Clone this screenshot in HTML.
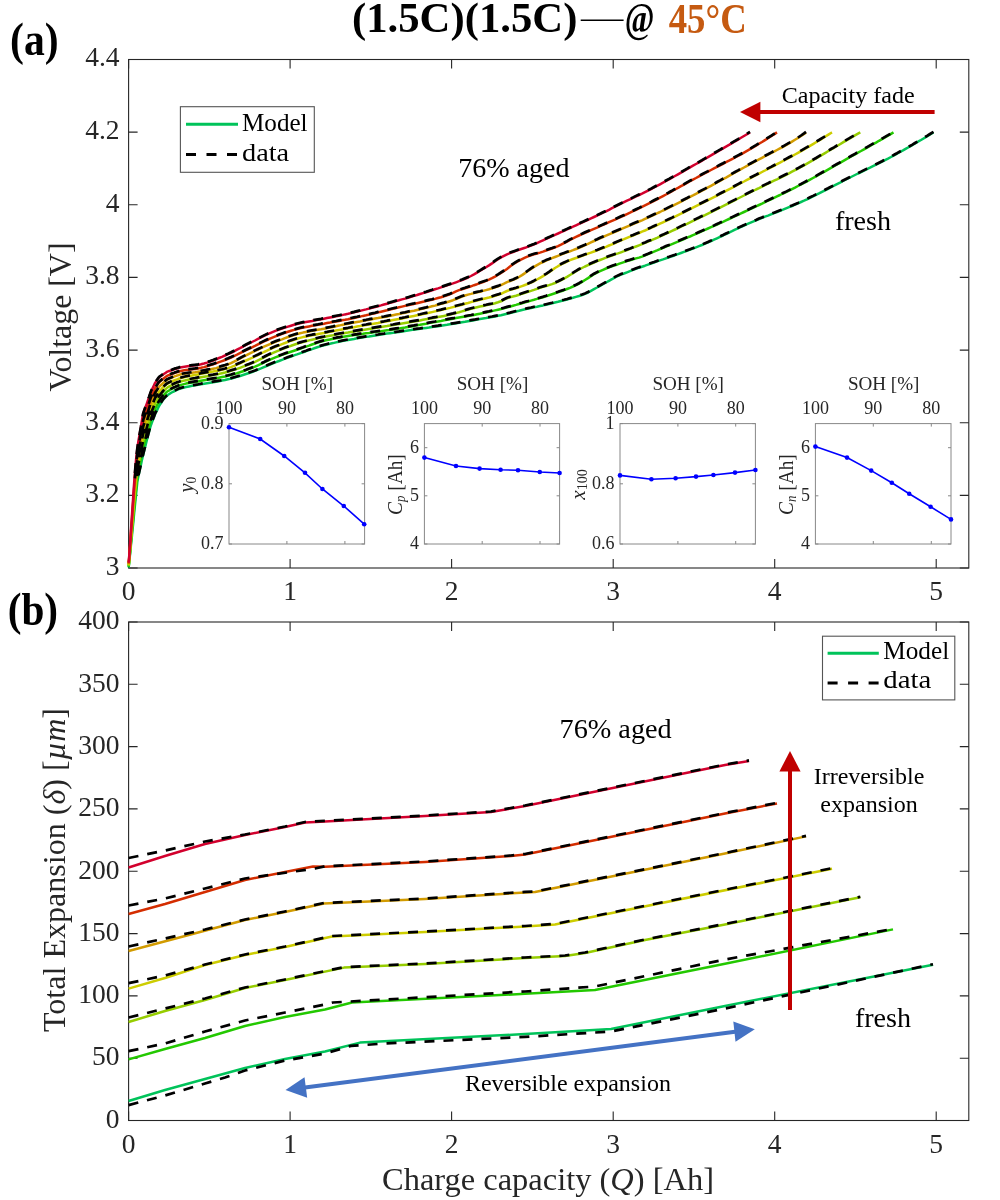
<!DOCTYPE html>
<html><head><meta charset="utf-8"><title>chart</title>
<style>html,body{margin:0;padding:0;background:#fff;width:1000px;height:1200px;overflow:hidden;font-family:"Liberation Serif",serif;}svg{display:block;}</style>
</head><body>
<svg width="1000" height="1200" viewBox="0 0 1000 1200" style="will-change:transform">
<rect width="1000" height="1200" fill="#fff"/>
<rect x="128.6" y="59.5" width="840.2" height="508.5" fill="none" stroke="#262626" stroke-width="1.1"/>
<path d="M128.6,568.0h9.0M968.8,568.0h-9.0M128.6,495.4h9.0M968.8,495.4h-9.0M128.6,422.7h9.0M968.8,422.7h-9.0M128.6,350.1h9.0M968.8,350.1h-9.0M128.6,277.4h9.0M968.8,277.4h-9.0M128.6,204.8h9.0M968.8,204.8h-9.0M128.6,132.1h9.0M968.8,132.1h-9.0M128.6,59.5h9.0M968.8,59.5h-9.0M128.6,568.0v-9.0M128.6,59.5v9.0M290.1,568.0v-9.0M290.1,59.5v9.0M451.6,568.0v-9.0M451.6,59.5v9.0M613.2,568.0v-9.0M613.2,59.5v9.0M774.7,568.0v-9.0M774.7,59.5v9.0M936.2,568.0v-9.0M936.2,59.5v9.0" stroke="#262626" stroke-width="1.1" fill="none"/>
<rect x="128.6" y="622.0" width="840.2" height="498.5" fill="none" stroke="#262626" stroke-width="1.1"/>
<path d="M128.6,1120.5h9.0M968.8,1120.5h-9.0M128.6,1058.2h9.0M968.8,1058.2h-9.0M128.6,995.9h9.0M968.8,995.9h-9.0M128.6,933.6h9.0M968.8,933.6h-9.0M128.6,871.2h9.0M968.8,871.2h-9.0M128.6,808.9h9.0M968.8,808.9h-9.0M128.6,746.6h9.0M968.8,746.6h-9.0M128.6,684.3h9.0M968.8,684.3h-9.0M128.6,622.0h9.0M968.8,622.0h-9.0M128.6,1120.5v-9.0M128.6,622.0v9.0M290.1,1120.5v-9.0M290.1,622.0v9.0M451.6,1120.5v-9.0M451.6,622.0v9.0M613.2,1120.5v-9.0M613.2,622.0v9.0M774.7,1120.5v-9.0M774.7,622.0v9.0M936.2,1120.5v-9.0M936.2,622.0v9.0" stroke="#262626" stroke-width="1.1" fill="none"/>
<g fill="none" stroke-linejoin="round" stroke-linecap="butt">
<path d="M128.6,567.5 L129.1,563.9 L129.5,559.3 L130.0,554.6 L130.5,550.0 L130.9,545.4 L131.4,540.8 L131.9,536.2 L132.3,531.5 L132.8,526.9 L133.3,522.3 L133.7,517.6 L134.9,505.7 L136.1,493.9 L137.3,482.0 L138.5,475.6 L139.7,470.2 L140.9,464.9 L142.0,459.6 L143.2,454.6 L144.4,449.8 L145.6,445.1 L146.8,440.3 L148.0,435.6 L149.2,431.1 L150.3,427.2 L151.5,423.6 L152.7,420.4 L153.9,417.2 L155.1,414.0 L156.3,411.6 L157.5,409.3 L158.6,406.9 L159.8,404.9 L161.0,403.0 L162.2,401.1 L163.4,399.4 L164.6,398.1 L165.8,396.9 L167.0,395.7 L168.1,394.8 L169.3,394.0 L170.5,393.2 L171.7,392.5 L172.9,391.9 L174.1,391.3 L175.3,390.7 L176.4,390.2 L177.6,389.6 L178.8,389.1 L180.0,388.6 L183.0,387.7 L186.0,387.0 L189.0,386.4 L192.0,385.8 L195.0,385.3 L198.0,384.8 L201.0,384.2 L204.0,383.7 L207.0,383.2 L210.0,382.7 L213.0,382.2 L216.0,381.7 L219.0,381.2 L222.0,380.6 L225.0,380.0 L228.0,379.3 L231.0,378.6 L234.0,377.7 L237.0,376.9 L240.0,376.0 L243.0,375.0 L246.0,374.0 L249.0,373.0 L252.0,372.0 L255.0,370.9 L258.0,369.6 L261.0,368.4 L264.0,367.1 L267.0,365.8 L270.0,364.5 L273.0,363.3 L276.0,362.1 L279.0,361.0 L282.0,359.8 L285.0,358.7 L288.0,357.6 L291.0,356.5 L294.0,355.4 L297.0,354.4 L300.0,353.3 L303.0,352.2 L306.0,351.2 L309.0,350.1 L312.0,349.1 L315.0,348.0 L318.0,347.0 L321.0,346.1 L324.0,345.3 L327.0,344.5 L330.0,343.7 L333.0,343.1 L336.0,342.4 L339.0,341.7 L342.0,341.1 L345.0,340.5 L348.0,340.0 L351.0,339.4 L354.0,338.9 L357.0,338.3 L360.0,337.8 L363.0,337.3 L366.0,336.8 L369.0,336.4 L372.0,335.9 L375.0,335.4 L378.0,335.0 L381.0,334.5 L384.0,334.1 L387.0,333.6 L390.0,333.2 L393.0,332.8 L396.0,332.3 L399.0,331.9 L402.0,331.4 L405.0,330.9 L408.0,330.5 L411.0,330.1 L414.0,329.6 L417.0,329.2 L420.0,328.8 L423.0,328.3 L426.0,327.9 L429.0,327.5 L432.0,327.0 L435.0,326.6 L438.0,326.2 L441.0,325.7 L444.0,325.2 L447.0,324.8 L450.0,324.3 L453.0,323.8 L456.0,323.3 L459.0,322.8 L462.0,322.3 L465.0,321.8 L468.0,321.2 L471.0,320.7 L474.0,320.2 L477.0,319.6 L480.0,319.1 L483.0,318.6 L486.0,318.1 L489.0,317.5 L492.0,317.0 L495.0,316.4 L498.0,315.8 L501.0,315.2 L504.0,314.5 L507.0,313.8 L510.0,313.1 L513.0,312.3 L516.0,311.5 L519.0,310.8 L522.0,310.0 L525.0,309.3 L528.0,308.6 L531.0,308.0 L534.0,307.3 L537.0,306.7 L540.0,306.0 L543.0,305.4 L546.0,304.7 L549.0,304.0 L552.0,303.3 L555.0,302.5 L558.0,301.8 L561.0,301.0 L564.0,300.3 L567.0,299.5 L570.0,298.6 L573.0,297.8 L576.0,296.9 L579.0,296.0 L582.0,295.0 L585.0,293.9 L588.0,292.5 L591.0,290.8 L594.0,289.1 L597.0,287.5 L600.0,285.8 L603.0,284.1 L606.0,282.5 L609.0,280.8 L612.0,279.2 L615.0,277.4 L618.0,275.9 L621.0,274.6 L624.0,273.5 L627.0,272.3 L630.0,271.1 L633.0,269.9 L636.0,268.8 L639.0,267.7 L642.0,266.7 L645.0,265.7 L648.0,264.6 L651.0,263.5 L654.0,262.5 L657.0,261.4 L660.0,260.4 L663.0,259.4 L666.0,258.3 L669.0,257.3 L672.0,256.2 L675.0,255.2 L678.0,254.1 L681.0,253.0 L684.0,251.9 L687.0,250.8 L690.0,249.7 L693.0,248.6 L696.0,247.4 L699.0,246.2 L702.0,245.0 L705.0,243.7 L708.0,242.4 L711.0,241.1 L714.0,239.7 L717.0,238.3 L720.0,236.9 L723.0,235.5 L726.0,234.0 L729.0,232.6 L732.0,231.2 L735.0,229.7 L738.0,228.3 L741.0,226.9 L744.0,225.6 L747.0,224.2 L750.0,222.9 L753.0,221.6 L756.0,220.4 L759.0,219.1 L762.0,217.9 L765.0,216.7 L768.0,215.6 L771.0,214.4 L774.0,213.2 L777.0,212.0 L780.0,210.8 L783.0,209.7 L786.0,208.4 L789.0,207.2 L792.0,206.0 L795.0,204.7 L798.0,203.4 L801.0,202.0 L804.0,200.7 L807.0,199.3 L810.0,197.8 L813.0,196.4 L816.0,194.9 L819.0,193.4 L822.0,191.8 L825.0,190.3 L828.0,188.8 L831.0,187.2 L834.0,185.7 L837.0,184.1 L840.0,182.6 L843.0,181.0 L846.0,179.5 L849.0,178.0 L852.0,176.5 L855.0,175.0 L858.0,173.5 L861.0,172.1 L864.0,170.6 L867.0,169.1 L870.0,167.7 L873.0,166.2 L876.0,164.7 L879.0,163.2 L882.0,161.7 L885.0,160.1 L888.0,158.6 L891.0,157.0 L894.0,155.3 L897.0,153.7 L900.0,152.0 L903.0,150.4 L906.0,148.7 L909.0,147.0 L912.0,145.3 L915.0,143.5 L918.0,141.7 L921.0,140.0 L924.0,138.2 L927.0,136.4 L930.0,134.5 L933.0,132.7 L933.5,132.4" stroke="#00C35A" stroke-width="2.5"/>
<path d="M128.6,566.7 L129.1,562.8 L129.5,557.9 L130.0,553.0 L130.5,548.0 L130.9,543.0 L131.4,538.0 L131.9,533.0 L132.3,527.9 L132.8,522.9 L133.3,517.9 L133.7,512.8 L134.9,500.4 L136.1,488.1 L137.3,476.5 L138.5,469.7 L139.7,464.2 L140.9,458.6 L142.0,453.0 L143.2,447.8 L144.4,443.2 L145.6,438.7 L146.8,434.2 L148.0,429.7 L149.2,425.5 L150.3,421.6 L151.5,418.1 L152.7,415.0 L153.9,411.9 L155.1,408.9 L156.3,406.6 L157.5,404.4 L158.6,402.1 L159.8,400.2 L161.0,398.5 L162.2,396.8 L163.4,395.3 L164.6,394.1 L165.8,392.9 L167.0,391.7 L168.1,391.0 L169.3,390.3 L170.5,389.5 L171.7,388.9 L172.9,388.3 L174.1,387.7 L175.3,387.2 L176.4,386.7 L177.6,386.2 L178.8,385.7 L180.0,385.2 L183.0,384.4 L186.0,383.6 L189.0,383.0 L192.0,382.4 L195.0,381.9 L198.0,381.4 L201.0,380.8 L204.0,380.3 L207.0,379.8 L210.0,379.3 L213.0,378.8 L216.0,378.3 L219.0,377.7 L222.0,377.1 L225.0,376.5 L228.0,375.8 L231.0,375.0 L234.0,374.1 L237.0,373.2 L240.0,372.2 L243.0,371.2 L246.0,370.2 L249.0,369.1 L252.0,367.9 L255.0,366.7 L258.0,365.3 L261.0,363.9 L264.0,362.5 L267.0,361.0 L270.0,359.6 L273.0,358.3 L276.0,357.1 L279.0,356.0 L282.0,354.9 L285.0,353.8 L288.0,352.8 L291.0,351.8 L294.0,350.8 L297.0,349.8 L300.0,348.8 L303.0,347.7 L306.0,346.6 L309.0,345.6 L312.0,344.5 L315.0,343.5 L318.0,342.5 L321.0,341.6 L324.0,340.7 L327.0,340.0 L330.0,339.4 L333.0,338.8 L336.0,338.2 L339.0,337.7 L342.0,337.1 L345.0,336.6 L348.0,336.1 L351.0,335.6 L354.0,335.1 L357.0,334.7 L360.0,334.2 L363.0,333.8 L366.0,333.3 L369.0,332.9 L372.0,332.4 L375.0,332.0 L378.0,331.6 L381.0,331.2 L384.0,330.7 L387.0,330.3 L390.0,329.9 L393.0,329.4 L396.0,328.9 L399.0,328.5 L402.0,328.0 L405.0,327.5 L408.0,326.9 L411.0,326.4 L414.0,325.9 L417.0,325.3 L420.0,324.8 L423.0,324.2 L426.0,323.7 L429.0,323.1 L432.0,322.5 L435.0,322.0 L438.0,321.4 L441.0,320.9 L444.0,320.3 L447.0,319.7 L450.0,319.2 L453.0,318.7 L456.0,318.1 L459.0,317.6 L462.0,317.1 L465.0,316.6 L468.0,316.0 L471.0,315.5 L474.0,314.9 L477.0,314.3 L480.0,313.7 L483.0,313.1 L486.0,312.4 L489.0,311.8 L492.0,311.1 L495.0,310.4 L498.0,309.7 L501.0,309.0 L504.0,308.2 L507.0,307.4 L510.0,306.6 L513.0,305.7 L516.0,304.9 L519.0,304.0 L522.0,303.2 L525.0,302.3 L528.0,301.5 L531.0,300.6 L534.0,299.8 L537.0,298.9 L540.0,298.1 L543.0,297.2 L546.0,296.3 L549.0,295.3 L552.0,294.3 L555.0,293.3 L558.0,292.3 L561.0,291.2 L564.0,290.2 L567.0,289.0 L570.0,287.8 L573.0,286.5 L576.0,285.2 L579.0,283.7 L582.0,281.9 L585.0,280.0 L588.0,278.1 L591.0,276.1 L594.0,274.2 L597.0,272.6 L600.0,271.1 L603.0,269.8 L606.0,268.5 L609.0,267.4 L612.0,266.3 L615.0,265.2 L618.0,264.2 L621.0,263.1 L624.0,262.1 L627.0,261.1 L630.0,260.2 L633.0,259.3 L636.0,258.4 L639.0,257.6 L642.0,256.6 L645.0,255.4 L648.0,254.2 L651.0,252.9 L654.0,251.6 L657.0,250.4 L660.0,249.1 L663.0,247.9 L666.0,246.6 L669.0,245.4 L672.0,244.1 L675.0,242.8 L678.0,241.6 L681.0,240.3 L684.0,239.0 L687.0,237.7 L690.0,236.5 L693.0,235.2 L696.0,233.9 L699.0,232.5 L702.0,231.2 L705.0,229.9 L708.0,228.5 L711.0,227.2 L714.0,225.9 L717.0,224.5 L720.0,223.1 L723.0,221.8 L726.0,220.4 L729.0,219.0 L732.0,217.6 L735.0,216.2 L738.0,214.8 L741.0,213.4 L744.0,212.0 L747.0,210.6 L750.0,209.2 L753.0,207.8 L756.0,206.4 L759.0,205.0 L762.0,203.6 L765.0,202.1 L768.0,200.7 L771.0,199.3 L774.0,197.9 L777.0,196.4 L780.0,195.0 L783.0,193.5 L786.0,192.1 L789.0,190.6 L792.0,189.1 L795.0,187.6 L798.0,186.0 L801.0,184.5 L804.0,182.9 L807.0,181.3 L810.0,179.7 L813.0,178.0 L816.0,176.4 L819.0,174.7 L822.0,173.0 L825.0,171.3 L828.0,169.6 L831.0,167.9 L834.0,166.2 L837.0,164.5 L840.0,162.8 L843.0,161.1 L846.0,159.4 L849.0,157.7 L852.0,156.0 L855.0,154.3 L858.0,152.6 L861.0,151.0 L864.0,149.3 L867.0,147.6 L870.0,145.9 L873.0,144.2 L876.0,142.6 L879.0,140.8 L882.0,139.1 L885.0,137.4 L888.0,135.7 L891.0,133.9 L893.5,132.4" stroke="#23C800" stroke-width="2.5"/>
<path d="M128.6,565.8 L129.1,561.8 L129.5,556.6 L130.0,551.4 L130.5,546.0 L130.9,540.6 L131.4,535.2 L131.9,529.8 L132.3,524.3 L132.8,518.9 L133.3,513.5 L133.7,508.0 L134.9,495.0 L136.1,482.3 L137.3,471.0 L138.5,463.9 L139.7,458.1 L140.9,452.3 L142.0,446.4 L143.2,440.9 L144.4,436.7 L145.6,432.4 L146.8,428.1 L148.0,423.8 L149.2,419.8 L150.3,416.0 L151.5,412.6 L152.7,409.6 L153.9,406.6 L155.1,403.7 L156.3,401.5 L157.5,399.4 L158.6,397.3 L159.8,395.6 L161.0,394.0 L162.2,392.5 L163.4,391.1 L164.6,390.0 L165.8,388.9 L167.0,387.8 L168.1,387.1 L169.3,386.4 L170.5,385.8 L171.7,385.2 L172.9,384.6 L174.1,384.1 L175.3,383.5 L176.4,383.1 L177.6,382.6 L178.8,382.2 L180.0,381.7 L183.0,380.9 L186.0,380.2 L189.0,379.6 L192.0,379.0 L195.0,378.5 L198.0,377.9 L201.0,377.3 L204.0,376.7 L207.0,376.2 L210.0,375.6 L213.0,375.1 L216.0,374.5 L219.0,373.9 L222.0,373.2 L225.0,372.5 L228.0,371.7 L231.0,370.8 L234.0,369.9 L237.0,368.9 L240.0,367.8 L243.0,366.7 L246.0,365.6 L249.0,364.4 L252.0,363.2 L255.0,361.8 L258.0,360.3 L261.0,358.8 L264.0,357.3 L267.0,355.7 L270.0,354.3 L273.0,352.9 L276.0,351.6 L279.0,350.4 L282.0,349.2 L285.0,348.0 L288.0,346.9 L291.0,345.8 L294.0,344.8 L297.0,343.8 L300.0,342.9 L303.0,342.0 L306.0,341.2 L309.0,340.4 L312.0,339.7 L315.0,339.0 L318.0,338.3 L321.0,337.6 L324.0,337.0 L327.0,336.3 L330.0,335.7 L333.0,335.2 L336.0,334.6 L339.0,334.0 L342.0,333.5 L345.0,333.0 L348.0,332.5 L351.0,331.9 L354.0,331.4 L357.0,330.9 L360.0,330.4 L363.0,329.9 L366.0,329.4 L369.0,328.9 L372.0,328.4 L375.0,327.9 L378.0,327.4 L381.0,326.9 L384.0,326.4 L387.0,326.0 L390.0,325.5 L393.0,325.0 L396.0,324.4 L399.0,323.9 L402.0,323.4 L405.0,322.9 L408.0,322.4 L411.0,321.9 L414.0,321.4 L417.0,320.9 L420.0,320.4 L423.0,319.8 L426.0,319.3 L429.0,318.8 L432.0,318.2 L435.0,317.7 L438.0,317.1 L441.0,316.5 L444.0,315.9 L447.0,315.3 L450.0,314.6 L453.0,313.9 L456.0,313.1 L459.0,312.3 L462.0,311.4 L465.0,310.5 L468.0,309.6 L471.0,308.8 L474.0,308.0 L477.0,307.2 L480.0,306.5 L483.0,305.9 L486.0,305.3 L489.0,304.6 L492.0,304.0 L495.0,303.2 L498.0,302.3 L501.0,301.3 L504.0,299.7 L507.0,298.2 L510.0,297.2 L513.0,296.5 L516.0,295.8 L519.0,294.8 L522.0,293.7 L525.0,292.7 L528.0,291.8 L531.0,290.9 L534.0,289.9 L537.0,288.8 L540.0,287.8 L543.0,286.9 L546.0,286.0 L549.0,285.1 L552.0,284.1 L555.0,283.0 L558.0,281.7 L561.0,280.2 L564.0,278.6 L567.0,276.9 L570.0,275.0 L573.0,273.2 L576.0,271.3 L579.0,269.5 L582.0,268.0 L585.0,266.5 L588.0,265.1 L591.0,263.8 L594.0,262.5 L597.0,261.2 L600.0,260.0 L603.0,258.8 L606.0,257.7 L609.0,256.6 L612.0,255.5 L615.0,254.4 L618.0,253.4 L621.0,252.3 L624.0,251.2 L627.0,250.0 L630.0,248.9 L633.0,247.7 L636.0,246.5 L639.0,245.3 L642.0,244.1 L645.0,242.9 L648.0,241.6 L651.0,240.4 L654.0,239.1 L657.0,237.8 L660.0,236.4 L663.0,235.1 L666.0,233.7 L669.0,232.3 L672.0,230.9 L675.0,229.5 L678.0,228.1 L681.0,226.6 L684.0,225.2 L687.0,223.8 L690.0,222.3 L693.0,220.9 L696.0,219.4 L699.0,218.0 L702.0,216.5 L705.0,215.1 L708.0,213.6 L711.0,212.1 L714.0,210.6 L717.0,209.1 L720.0,207.6 L723.0,206.1 L726.0,204.6 L729.0,203.1 L732.0,201.6 L735.0,200.1 L738.0,198.5 L741.0,197.0 L744.0,195.5 L747.0,194.0 L750.0,192.5 L753.0,191.0 L756.0,189.5 L759.0,188.1 L762.0,186.6 L765.0,185.1 L768.0,183.7 L771.0,182.2 L774.0,180.7 L777.0,179.3 L780.0,177.8 L783.0,176.3 L786.0,174.8 L789.0,173.3 L792.0,171.7 L795.0,170.2 L798.0,168.6 L801.0,167.0 L804.0,165.3 L807.0,163.6 L810.0,161.9 L813.0,160.2 L816.0,158.5 L819.0,156.7 L822.0,154.9 L825.0,153.1 L828.0,151.3 L831.0,149.5 L834.0,147.8 L837.0,146.0 L840.0,144.2 L843.0,142.4 L846.0,140.6 L849.0,138.9 L852.0,137.1 L855.0,135.4 L858.0,133.7 L860.3,132.4" stroke="#96CD00" stroke-width="2.5"/>
<path d="M128.6,565.0 L129.1,560.7 L129.5,555.3 L130.0,549.8 L130.5,544.0 L130.9,538.2 L131.4,532.4 L131.9,526.5 L132.3,520.7 L132.8,514.9 L133.3,509.1 L133.7,503.3 L134.9,489.6 L136.1,476.5 L137.3,465.5 L138.5,458.0 L139.7,452.1 L140.9,446.1 L142.0,439.8 L143.2,434.1 L144.4,430.1 L145.6,426.0 L146.8,422.0 L148.0,418.0 L149.2,414.1 L150.3,410.4 L151.5,407.1 L152.7,404.2 L153.9,401.3 L155.1,398.5 L156.3,396.5 L157.5,394.5 L158.6,392.5 L159.8,390.9 L161.0,389.6 L162.2,388.2 L163.4,387.0 L164.6,385.9 L165.8,384.9 L167.0,383.9 L168.1,383.3 L169.3,382.7 L170.5,382.1 L171.7,381.5 L172.9,381.0 L174.1,380.5 L175.3,380.0 L176.4,379.6 L177.6,379.2 L178.8,378.7 L180.0,378.3 L183.0,377.5 L186.0,376.8 L189.0,376.1 L192.0,375.6 L195.0,375.0 L198.0,374.4 L201.0,373.8 L204.0,373.2 L207.0,372.7 L210.0,372.1 L213.0,371.6 L216.0,371.0 L219.0,370.4 L222.0,369.8 L225.0,369.0 L228.0,368.1 L231.0,367.1 L234.0,365.9 L237.0,364.6 L240.0,363.3 L243.0,361.9 L246.0,360.5 L249.0,359.1 L252.0,357.8 L255.0,356.4 L258.0,355.0 L261.0,353.5 L264.0,352.0 L267.0,350.6 L270.0,349.2 L273.0,347.8 L276.0,346.6 L279.0,345.4 L282.0,344.1 L285.0,343.0 L288.0,341.8 L291.0,340.7 L294.0,339.7 L297.0,338.7 L300.0,337.9 L303.0,337.1 L306.0,336.5 L309.0,335.8 L312.0,335.2 L315.0,334.7 L318.0,334.1 L321.0,333.5 L324.0,332.9 L327.0,332.4 L330.0,331.8 L333.0,331.2 L336.0,330.6 L339.0,330.0 L342.0,329.4 L345.0,328.8 L348.0,328.3 L351.0,327.7 L354.0,327.2 L357.0,326.6 L360.0,326.1 L363.0,325.5 L366.0,325.0 L369.0,324.4 L372.0,323.9 L375.0,323.4 L378.0,322.9 L381.0,322.3 L384.0,321.8 L387.0,321.2 L390.0,320.7 L393.0,320.1 L396.0,319.5 L399.0,318.9 L402.0,318.4 L405.0,317.8 L408.0,317.1 L411.0,316.5 L414.0,315.9 L417.0,315.3 L420.0,314.7 L423.0,314.0 L426.0,313.4 L429.0,312.8 L432.0,312.1 L435.0,311.4 L438.0,310.7 L441.0,310.1 L444.0,309.3 L447.0,308.6 L450.0,307.9 L453.0,307.1 L456.0,306.3 L459.0,305.5 L462.0,304.7 L465.0,303.8 L468.0,303.0 L471.0,302.1 L474.0,301.3 L477.0,300.5 L480.0,299.7 L483.0,299.0 L486.0,298.2 L489.0,297.5 L492.0,296.7 L495.0,295.8 L498.0,294.9 L501.0,293.8 L504.0,292.4 L507.0,291.0 L510.0,289.9 L513.0,289.1 L516.0,288.2 L519.0,287.2 L522.0,286.1 L525.0,285.0 L528.0,283.9 L531.0,282.7 L534.0,281.2 L537.0,279.5 L540.0,277.8 L543.0,276.1 L546.0,274.3 L549.0,272.3 L552.0,270.2 L555.0,268.0 L558.0,266.2 L561.0,264.5 L564.0,263.0 L567.0,261.6 L570.0,260.2 L573.0,259.0 L576.0,258.0 L579.0,257.0 L582.0,255.9 L585.0,254.8 L588.0,253.7 L591.0,252.6 L594.0,251.5 L597.0,250.4 L600.0,249.2 L603.0,248.0 L606.0,246.8 L609.0,245.5 L612.0,244.3 L615.0,243.0 L618.0,241.7 L621.0,240.4 L624.0,239.2 L627.0,237.9 L630.0,236.7 L633.0,235.5 L636.0,234.2 L639.0,233.0 L642.0,231.7 L645.0,230.5 L648.0,229.2 L651.0,227.9 L654.0,226.5 L657.0,225.1 L660.0,223.7 L663.0,222.3 L666.0,220.9 L669.0,219.5 L672.0,218.1 L675.0,216.6 L678.0,215.1 L681.0,213.7 L684.0,212.2 L687.0,210.7 L690.0,209.2 L693.0,207.7 L696.0,206.2 L699.0,204.7 L702.0,203.2 L705.0,201.7 L708.0,200.2 L711.0,198.6 L714.0,197.1 L717.0,195.6 L720.0,194.0 L723.0,192.5 L726.0,190.9 L729.0,189.3 L732.0,187.8 L735.0,186.2 L738.0,184.6 L741.0,183.0 L744.0,181.5 L747.0,179.9 L750.0,178.3 L753.0,176.7 L756.0,175.2 L759.0,173.6 L762.0,172.0 L765.0,170.5 L768.0,168.9 L771.0,167.4 L774.0,165.8 L777.0,164.2 L780.0,162.6 L783.0,161.0 L786.0,159.4 L789.0,157.8 L792.0,156.2 L795.0,154.5 L798.0,152.8 L801.0,151.1 L804.0,149.4 L807.0,147.7 L810.0,145.9 L813.0,144.1 L816.0,142.3 L819.0,140.5 L822.0,138.6 L825.0,136.8 L828.0,134.9 L831.0,133.0 L832.0,132.4" stroke="#CDCD00" stroke-width="2.5"/>
<path d="M128.6,564.2 L129.1,559.7 L129.5,553.9 L130.0,548.2 L130.5,542.0 L130.9,535.8 L131.4,529.6 L131.9,523.3 L132.3,517.1 L132.8,510.9 L133.3,504.7 L133.7,498.5 L134.9,484.2 L136.1,470.7 L137.3,460.0 L138.5,452.1 L139.7,446.1 L140.9,439.8 L142.0,433.2 L143.2,427.2 L144.4,423.4 L145.6,419.6 L146.8,415.9 L148.0,412.1 L149.2,408.4 L150.3,404.8 L151.5,401.6 L152.7,398.8 L153.9,396.0 L155.1,393.3 L156.3,391.4 L157.5,389.5 L158.6,387.6 L159.8,386.2 L161.0,385.0 L162.2,383.8 L163.4,382.7 L164.6,381.7 L165.8,380.8 L167.0,379.8 L168.1,379.3 L169.3,378.7 L170.5,378.2 L171.7,377.7 L172.9,377.2 L174.1,376.7 L175.3,376.2 L176.4,375.8 L177.6,375.4 L178.8,375.0 L180.0,374.6 L183.0,374.0 L186.0,373.5 L189.0,373.0 L192.0,372.7 L195.0,372.3 L198.0,371.8 L201.0,371.3 L204.0,370.7 L207.0,370.1 L210.0,369.5 L213.0,368.8 L216.0,368.1 L219.0,367.3 L222.0,366.4 L225.0,365.5 L228.0,364.4 L231.0,363.1 L234.0,361.7 L237.0,360.1 L240.0,358.5 L243.0,356.9 L246.0,355.3 L249.0,353.8 L252.0,352.4 L255.0,350.9 L258.0,349.5 L261.0,348.1 L264.0,346.7 L267.0,345.4 L270.0,344.1 L273.0,342.8 L276.0,341.6 L279.0,340.4 L282.0,339.3 L285.0,338.1 L288.0,337.0 L291.0,336.0 L294.0,335.0 L297.0,334.1 L300.0,333.3 L303.0,332.6 L306.0,332.0 L309.0,331.4 L312.0,330.8 L315.0,330.3 L318.0,329.8 L321.0,329.3 L324.0,328.7 L327.0,328.1 L330.0,327.5 L333.0,326.9 L336.0,326.2 L339.0,325.6 L342.0,324.9 L345.0,324.3 L348.0,323.7 L351.0,323.1 L354.0,322.5 L357.0,321.9 L360.0,321.4 L363.0,320.8 L366.0,320.3 L369.0,319.7 L372.0,319.2 L375.0,318.6 L378.0,318.1 L381.0,317.5 L384.0,317.0 L387.0,316.4 L390.0,315.8 L393.0,315.2 L396.0,314.6 L399.0,314.0 L402.0,313.3 L405.0,312.7 L408.0,312.0 L411.0,311.3 L414.0,310.7 L417.0,310.0 L420.0,309.3 L423.0,308.6 L426.0,307.9 L429.0,307.1 L432.0,306.3 L435.0,305.6 L438.0,304.8 L441.0,303.9 L444.0,303.1 L447.0,302.2 L450.0,301.2 L453.0,300.2 L456.0,299.0 L459.0,297.8 L462.0,296.6 L465.0,295.5 L468.0,294.6 L471.0,293.9 L474.0,293.1 L477.0,292.4 L480.0,291.7 L483.0,290.9 L486.0,290.1 L489.0,289.3 L492.0,288.4 L495.0,287.4 L498.0,286.4 L501.0,285.1 L504.0,283.7 L507.0,282.2 L510.0,281.0 L513.0,279.9 L516.0,278.6 L519.0,277.0 L522.0,275.1 L525.0,273.1 L528.0,271.0 L531.0,268.9 L534.0,266.9 L537.0,265.1 L540.0,263.4 L543.0,262.0 L546.0,260.6 L549.0,259.4 L552.0,258.2 L555.0,257.0 L558.0,255.8 L561.0,254.6 L564.0,253.4 L567.0,252.3 L570.0,251.3 L573.0,250.2 L576.0,249.0 L579.0,247.8 L582.0,246.5 L585.0,245.2 L588.0,243.8 L591.0,242.4 L594.0,241.0 L597.0,239.7 L600.0,238.3 L603.0,237.0 L606.0,235.7 L609.0,234.4 L612.0,233.1 L615.0,231.8 L618.0,230.5 L621.0,229.2 L624.0,227.9 L627.0,226.6 L630.0,225.4 L633.0,224.1 L636.0,222.8 L639.0,221.5 L642.0,220.3 L645.0,218.9 L648.0,217.6 L651.0,216.2 L654.0,214.8 L657.0,213.4 L660.0,212.0 L663.0,210.5 L666.0,209.1 L669.0,207.6 L672.0,206.1 L675.0,204.6 L678.0,203.1 L681.0,201.6 L684.0,200.0 L687.0,198.5 L690.0,196.9 L693.0,195.4 L696.0,193.8 L699.0,192.2 L702.0,190.6 L705.0,189.1 L708.0,187.4 L711.0,185.8 L714.0,184.2 L717.0,182.5 L720.0,180.9 L723.0,179.2 L726.0,177.6 L729.0,175.9 L732.0,174.2 L735.0,172.5 L738.0,170.9 L741.0,169.2 L744.0,167.5 L747.0,165.9 L750.0,164.2 L753.0,162.6 L756.0,161.0 L759.0,159.4 L762.0,157.8 L765.0,156.2 L768.0,154.7 L771.0,153.1 L774.0,151.6 L777.0,150.0 L780.0,148.4 L783.0,146.8 L786.0,145.1 L789.0,143.4 L792.0,141.6 L795.0,139.8 L798.0,138.0 L801.0,136.0 L804.0,133.9 L806.0,132.4" stroke="#D29B00" stroke-width="2.5"/>
<path d="M128.6,563.3 L129.1,558.6 L129.5,552.6 L130.0,546.6 L130.5,540.0 L130.9,533.4 L131.4,526.8 L131.9,520.1 L132.3,513.5 L132.8,506.9 L133.3,500.3 L133.7,493.7 L134.9,478.8 L136.1,464.9 L137.3,454.5 L138.5,446.3 L139.7,440.0 L140.9,433.5 L142.0,426.6 L143.2,420.4 L144.4,416.9 L145.6,413.3 L146.8,409.7 L148.0,406.2 L149.2,402.7 L150.3,399.3 L151.5,396.2 L152.7,393.5 L153.9,390.8 L155.1,388.1 L156.3,386.4 L157.5,384.6 L158.6,382.8 L159.8,381.6 L161.0,380.6 L162.2,379.6 L163.4,378.6 L164.6,377.7 L165.8,376.8 L167.0,375.9 L168.1,375.4 L169.3,375.0 L170.5,374.5 L171.7,374.0 L172.9,373.6 L174.1,373.2 L175.3,372.7 L176.4,372.4 L177.6,372.0 L178.8,371.6 L180.0,371.2 L183.0,370.6 L186.0,370.1 L189.0,369.7 L192.0,369.3 L195.0,368.9 L198.0,368.4 L201.0,367.8 L204.0,367.1 L207.0,366.2 L210.0,365.3 L213.0,364.4 L216.0,363.3 L219.0,362.2 L222.0,361.1 L225.0,360.0 L228.0,358.8 L231.0,357.5 L234.0,356.1 L237.0,354.7 L240.0,353.2 L243.0,351.7 L246.0,350.2 L249.0,348.8 L252.0,347.3 L255.0,345.9 L258.0,344.4 L261.0,342.9 L264.0,341.4 L267.0,340.0 L270.0,338.6 L273.0,337.3 L276.0,336.1 L279.0,335.0 L282.0,333.9 L285.0,332.8 L288.0,331.8 L291.0,330.8 L294.0,329.9 L297.0,329.1 L300.0,328.3 L303.0,327.6 L306.0,327.0 L309.0,326.4 L312.0,325.8 L315.0,325.3 L318.0,324.8 L321.0,324.2 L324.0,323.7 L327.0,323.1 L330.0,322.6 L333.0,322.0 L336.0,321.5 L339.0,320.9 L342.0,320.3 L345.0,319.8 L348.0,319.2 L351.0,318.5 L354.0,317.9 L357.0,317.3 L360.0,316.6 L363.0,315.9 L366.0,315.3 L369.0,314.6 L372.0,313.9 L375.0,313.2 L378.0,312.4 L381.0,311.7 L384.0,311.0 L387.0,310.3 L390.0,309.5 L393.0,308.8 L396.0,308.1 L399.0,307.3 L402.0,306.6 L405.0,305.9 L408.0,305.2 L411.0,304.5 L414.0,303.9 L417.0,303.2 L420.0,302.5 L423.0,301.8 L426.0,301.1 L429.0,300.4 L432.0,299.7 L435.0,298.9 L438.0,298.0 L441.0,297.2 L444.0,296.2 L447.0,295.2 L450.0,294.2 L453.0,292.8 L456.0,291.3 L459.0,290.1 L462.0,289.2 L465.0,288.3 L468.0,287.3 L471.0,286.3 L474.0,285.2 L477.0,284.2 L480.0,283.1 L483.0,282.0 L486.0,280.9 L489.0,279.7 L492.0,278.2 L495.0,276.6 L498.0,274.8 L501.0,272.9 L504.0,271.0 L507.0,268.9 L510.0,266.5 L513.0,264.3 L516.0,262.4 L519.0,260.7 L522.0,259.2 L525.0,257.7 L528.0,256.4 L531.0,255.3 L534.0,254.3 L537.0,253.5 L540.0,252.6 L543.0,251.6 L546.0,250.5 L549.0,249.5 L552.0,248.5 L555.0,247.4 L558.0,246.1 L561.0,244.7 L564.0,243.2 L567.0,241.6 L570.0,239.9 L573.0,238.4 L576.0,236.9 L579.0,235.5 L582.0,234.2 L585.0,232.8 L588.0,231.5 L591.0,230.2 L594.0,228.9 L597.0,227.6 L600.0,226.2 L603.0,224.9 L606.0,223.6 L609.0,222.2 L612.0,220.9 L615.0,219.6 L618.0,218.2 L621.0,216.8 L624.0,215.5 L627.0,214.1 L630.0,212.7 L633.0,211.2 L636.0,209.8 L639.0,208.4 L642.0,206.9 L645.0,205.4 L648.0,203.9 L651.0,202.4 L654.0,200.8 L657.0,199.3 L660.0,197.7 L663.0,196.1 L666.0,194.5 L669.0,192.8 L672.0,191.2 L675.0,189.5 L678.0,187.9 L681.0,186.2 L684.0,184.6 L687.0,182.9 L690.0,181.2 L693.0,179.6 L696.0,178.0 L699.0,176.3 L702.0,174.7 L705.0,173.1 L708.0,171.6 L711.0,170.0 L714.0,168.4 L717.0,166.9 L720.0,165.3 L723.0,163.8 L726.0,162.2 L729.0,160.7 L732.0,159.1 L735.0,157.5 L738.0,155.9 L741.0,154.3 L744.0,152.6 L747.0,150.9 L750.0,149.2 L753.0,147.4 L756.0,145.7 L759.0,143.8 L762.0,142.0 L765.0,140.1 L768.0,138.2 L771.0,136.3 L774.0,134.4 L777.0,132.4" stroke="#D42D00" stroke-width="2.5"/>
<path d="M128.6,562.5 L129.1,557.6 L129.5,551.3 L130.0,545.0 L130.5,538.0 L130.9,531.0 L131.4,523.9 L131.9,516.9 L132.3,509.9 L132.8,502.9 L133.3,495.9 L133.7,488.9 L134.9,473.5 L136.1,459.2 L137.3,449.0 L138.5,440.4 L139.7,434.0 L140.9,427.2 L142.0,420.0 L143.2,413.6 L144.4,410.2 L145.6,406.9 L146.8,403.6 L148.0,400.3 L149.2,397.0 L150.3,393.6 L151.5,390.6 L152.7,388.0 L153.9,385.4 L155.1,382.9 L156.3,381.2 L157.5,379.6 L158.6,377.9 L159.8,376.8 L161.0,376.0 L162.2,375.2 L163.4,374.3 L164.6,373.5 L165.8,372.7 L167.0,371.8 L168.1,371.4 L169.3,371.0 L170.5,370.6 L171.7,370.2 L172.9,369.7 L174.1,369.3 L175.3,368.9 L176.4,368.6 L177.6,368.2 L178.8,367.9 L180.0,367.5 L183.0,366.9 L186.0,366.5 L189.0,366.1 L192.0,365.7 L195.0,365.3 L198.0,364.9 L201.0,364.3 L204.0,363.5 L207.0,362.6 L210.0,361.6 L213.0,360.5 L216.0,359.3 L219.0,358.0 L222.0,356.8 L225.0,355.5 L228.0,354.2 L231.0,352.8 L234.0,351.3 L237.0,349.7 L240.0,348.2 L243.0,346.6 L246.0,345.0 L249.0,343.5 L252.0,342.0 L255.0,340.5 L258.0,338.9 L261.0,337.4 L264.0,335.9 L267.0,334.4 L270.0,333.1 L273.0,331.8 L276.0,330.6 L279.0,329.5 L282.0,328.5 L285.0,327.5 L288.0,326.6 L291.0,325.7 L294.0,324.8 L297.0,324.0 L300.0,323.3 L303.0,322.6 L306.0,322.0 L309.0,321.4 L312.0,320.9 L315.0,320.3 L318.0,319.8 L321.0,319.3 L324.0,318.7 L327.0,318.1 L330.0,317.5 L333.0,316.9 L336.0,316.3 L339.0,315.7 L342.0,315.1 L345.0,314.4 L348.0,313.8 L351.0,313.1 L354.0,312.4 L357.0,311.6 L360.0,310.9 L363.0,310.1 L366.0,309.4 L369.0,308.6 L372.0,307.8 L375.0,307.0 L378.0,306.2 L381.0,305.4 L384.0,304.5 L387.0,303.7 L390.0,302.9 L393.0,302.0 L396.0,301.1 L399.0,300.3 L402.0,299.4 L405.0,298.6 L408.0,297.7 L411.0,296.8 L414.0,295.9 L417.0,295.0 L420.0,294.0 L423.0,293.1 L426.0,292.2 L429.0,291.2 L432.0,290.3 L435.0,289.3 L438.0,288.4 L441.0,287.4 L444.0,286.4 L447.0,285.4 L450.0,284.4 L453.0,283.4 L456.0,282.3 L459.0,281.2 L462.0,280.1 L465.0,278.8 L468.0,277.5 L471.0,276.0 L474.0,274.4 L477.0,272.7 L480.0,270.8 L483.0,269.0 L486.0,267.2 L489.0,265.4 L492.0,263.4 L495.0,261.2 L498.0,259.2 L501.0,257.4 L504.0,255.8 L507.0,254.3 L510.0,253.1 L513.0,252.0 L516.0,250.9 L519.0,249.8 L522.0,248.8 L525.0,247.8 L528.0,246.7 L531.0,245.6 L534.0,244.4 L537.0,243.1 L540.0,241.7 L543.0,240.3 L546.0,238.9 L549.0,237.6 L552.0,236.2 L555.0,234.8 L558.0,233.5 L561.0,232.1 L564.0,230.8 L567.0,229.4 L570.0,228.0 L573.0,226.7 L576.0,225.3 L579.0,223.9 L582.0,222.6 L585.0,221.2 L588.0,219.8 L591.0,218.4 L594.0,217.0 L597.0,215.6 L600.0,214.2 L603.0,212.7 L606.0,211.3 L609.0,209.8 L612.0,208.2 L615.0,206.7 L618.0,205.2 L621.0,203.7 L624.0,202.2 L627.0,200.7 L630.0,199.3 L633.0,197.9 L636.0,196.4 L639.0,195.0 L642.0,193.6 L645.0,192.1 L648.0,190.6 L651.0,189.1 L654.0,187.5 L657.0,185.9 L660.0,184.3 L663.0,182.7 L666.0,181.0 L669.0,179.4 L672.0,177.7 L675.0,176.0 L678.0,174.3 L681.0,172.6 L684.0,170.9 L687.0,169.2 L690.0,167.4 L693.0,165.7 L696.0,164.0 L699.0,162.3 L702.0,160.6 L705.0,158.8 L708.0,157.1 L711.0,155.4 L714.0,153.6 L717.0,151.9 L720.0,150.2 L723.0,148.4 L726.0,146.6 L729.0,144.9 L732.0,143.1 L735.0,141.3 L738.0,139.6 L741.0,137.8 L744.0,136.0 L747.0,134.2 L750.0,132.4" stroke="#D2002D" stroke-width="2.5"/>
<path d="M138.5,475.1 L139.7,469.7 L140.9,464.4 L142.0,459.1 L143.2,454.1 L144.4,449.3 L145.6,444.6 L146.8,439.8 L148.0,435.1 L149.2,430.6 L150.3,426.7 L151.5,423.1 L152.7,419.9 L153.9,416.7 L155.1,413.5 L156.3,411.1 L157.5,408.8 L158.6,406.4 L159.8,404.4 L161.0,402.5 L162.2,400.6 L163.4,398.9 L164.6,397.6 L165.8,396.4 L167.0,395.2 L168.1,394.3 L169.3,393.5 L170.5,392.7 L171.7,392.0 L172.9,391.4 L174.1,390.8 L175.3,390.2 L176.4,389.7 L177.6,389.1 L178.8,388.6 L180.0,388.1 L183.0,387.2 L186.0,386.5 L189.0,385.9 L192.0,385.3 L195.0,384.8 L198.0,384.3 L201.0,383.7 L204.0,383.2 L207.0,382.7 L210.0,382.2 L213.0,381.7 L216.0,381.2 L219.0,380.7 L222.0,380.1 L225.0,379.5 L228.0,378.8 L231.0,378.1 L234.0,377.2 L237.0,376.4 L240.0,375.5 L243.0,374.5 L246.0,373.5 L249.0,372.5 L252.0,371.5 L255.0,370.4 L258.0,369.1 L261.0,367.9 L264.0,366.6 L267.0,365.3 L270.0,364.0 L273.0,362.8 L276.0,361.6 L279.0,360.5 L282.0,359.3 L285.0,358.2 L288.0,357.1 L291.0,356.0 L294.0,354.9 L297.0,353.9 L300.0,352.8 L303.0,351.7 L306.0,350.7 L309.0,349.6 L312.0,348.6 L315.0,347.5 L318.0,346.5 L321.0,345.6 L324.0,344.8 L327.0,344.0 L330.0,343.2 L333.0,342.6 L336.0,341.9 L339.0,341.2 L342.0,340.6 L345.0,340.0 L348.0,339.5 L351.0,338.9 L354.0,338.4 L357.0,337.8 L360.0,337.3 L363.0,336.8 L366.0,336.3 L369.0,335.9 L372.0,335.4 L375.0,334.9 L378.0,334.5 L381.0,334.0 L384.0,333.6 L387.0,333.1 L390.0,332.7 L393.0,332.3 L396.0,331.8 L399.0,331.4 L402.0,330.9 L405.0,330.4 L408.0,330.0 L411.0,329.6 L414.0,329.1 L417.0,328.7 L420.0,328.3 L423.0,327.8 L426.0,327.4 L429.0,327.0 L432.0,326.5 L435.0,326.1 L438.0,325.7 L441.0,325.2 L444.0,324.7 L447.0,324.3 L450.0,323.8 L453.0,323.3 L456.0,322.8 L459.0,322.3 L462.0,321.8 L465.0,321.3 L468.0,320.7 L471.0,320.2 L474.0,319.7 L477.0,319.1 L480.0,318.6 L483.0,318.1 L486.0,317.6 L489.0,317.0 L492.0,316.5 L495.0,315.9 L498.0,315.3 L501.0,314.7 L504.0,314.0 L507.0,313.3 L510.0,312.6 L513.0,311.8 L516.0,311.0 L519.0,310.3 L522.0,309.5 L525.0,308.8 L528.0,308.1 L531.0,307.5 L534.0,306.8 L537.0,306.2 L540.0,305.5 L543.0,304.9 L546.0,304.2 L549.0,303.5 L552.0,302.8 L555.0,302.0 L558.0,301.3 L561.0,300.5 L564.0,299.8 L567.0,299.0 L570.0,298.1 L573.0,297.3 L576.0,296.4 L579.0,295.5 L582.0,294.5 L585.0,293.4 L588.0,292.0 L591.0,290.3 L594.0,288.6 L597.0,287.0 L600.0,285.3 L603.0,283.6 L606.0,282.0 L609.0,280.3 L612.0,278.7 L615.0,276.9 L618.0,275.4 L621.0,274.1 L624.0,273.0 L627.0,271.8 L630.0,270.6 L633.0,269.4 L636.0,268.3 L639.0,267.2 L642.0,266.2 L645.0,265.2 L648.0,264.1 L651.0,263.0 L654.0,262.0 L657.0,260.9 L660.0,259.9 L663.0,258.9 L666.0,257.8 L669.0,256.8 L672.0,255.7 L675.0,254.7 L678.0,253.6 L681.0,252.5 L684.0,251.4 L687.0,250.3 L690.0,249.2 L693.0,248.1 L696.0,246.9 L699.0,245.7 L702.0,244.5 L705.0,243.2 L708.0,241.9 L711.0,240.6 L714.0,239.2 L717.0,237.8 L720.0,236.4 L723.0,235.0 L726.0,233.5 L729.0,232.1 L732.0,230.7 L735.0,229.2 L738.0,227.8 L741.0,226.4 L744.0,225.1 L747.0,223.7 L750.0,222.4 L753.0,221.1 L756.0,219.9 L759.0,218.6 L762.0,217.4 L765.0,216.2 L768.0,215.1 L771.0,213.9 L774.0,212.7 L777.0,211.5 L780.0,210.3 L783.0,209.2 L786.0,207.9 L789.0,206.7 L792.0,205.5 L795.0,204.2 L798.0,202.9 L801.0,201.5 L804.0,200.2 L807.0,198.8 L810.0,197.3 L813.0,195.9 L816.0,194.4 L819.0,192.9 L822.0,191.3 L825.0,189.8 L828.0,188.3 L831.0,186.7 L834.0,185.2 L837.0,183.6 L840.0,182.1 L843.0,180.5 L846.0,179.0 L849.0,177.5 L852.0,176.0 L855.0,174.5 L858.0,173.0 L861.0,171.6 L864.0,170.1 L867.0,168.6 L870.0,167.2 L873.0,165.7 L876.0,164.2 L879.0,162.7 L882.0,161.2 L885.0,159.6 L888.0,158.1 L891.0,156.5 L894.0,154.8 L897.0,153.2 L900.0,151.5 L903.0,149.9 L906.0,148.2 L909.0,146.5 L912.0,144.8 L915.0,143.0 L918.0,141.2 L921.0,139.5 L924.0,137.7 L927.0,135.9 L930.0,134.0 L933.0,132.2 L933.5,131.9" stroke="#000" stroke-width="2.7" stroke-dasharray="10,9"/>
<path d="M137.3,476.0 L138.5,469.2 L139.7,463.7 L140.9,458.1 L142.0,452.5 L143.2,447.3 L144.4,442.7 L145.6,438.2 L146.8,433.7 L148.0,429.2 L149.2,425.0 L150.3,421.1 L151.5,417.6 L152.7,414.5 L153.9,411.4 L155.1,408.4 L156.3,406.1 L157.5,403.9 L158.6,401.6 L159.8,399.7 L161.0,398.0 L162.2,396.3 L163.4,394.8 L164.6,393.6 L165.8,392.4 L167.0,391.2 L168.1,390.5 L169.3,389.8 L170.5,389.0 L171.7,388.4 L172.9,387.8 L174.1,387.2 L175.3,386.7 L176.4,386.2 L177.6,385.7 L178.8,385.2 L180.0,384.7 L183.0,383.9 L186.0,383.1 L189.0,382.5 L192.0,381.9 L195.0,381.4 L198.0,380.9 L201.0,380.3 L204.0,379.8 L207.0,379.3 L210.0,378.8 L213.0,378.3 L216.0,377.8 L219.0,377.2 L222.0,376.6 L225.0,376.0 L228.0,375.3 L231.0,374.5 L234.0,373.6 L237.0,372.7 L240.0,371.7 L243.0,370.7 L246.0,369.7 L249.0,368.6 L252.0,367.4 L255.0,366.2 L258.0,364.8 L261.0,363.4 L264.0,362.0 L267.0,360.5 L270.0,359.1 L273.0,357.8 L276.0,356.6 L279.0,355.5 L282.0,354.4 L285.0,353.3 L288.0,352.3 L291.0,351.3 L294.0,350.3 L297.0,349.3 L300.0,348.2 L303.0,347.2 L306.0,346.1 L309.0,345.1 L312.0,344.0 L315.0,343.0 L318.0,342.0 L321.0,341.1 L324.0,340.2 L327.0,339.5 L330.0,338.9 L333.0,338.3 L336.0,337.7 L339.0,337.2 L342.0,336.6 L345.0,336.1 L348.0,335.6 L351.0,335.1 L354.0,334.6 L357.0,334.2 L360.0,333.7 L363.0,333.3 L366.0,332.8 L369.0,332.4 L372.0,331.9 L375.0,331.5 L378.0,331.1 L381.0,330.7 L384.0,330.2 L387.0,329.8 L390.0,329.4 L393.0,328.9 L396.0,328.4 L399.0,328.0 L402.0,327.5 L405.0,327.0 L408.0,326.4 L411.0,325.9 L414.0,325.4 L417.0,324.8 L420.0,324.3 L423.0,323.7 L426.0,323.2 L429.0,322.6 L432.0,322.0 L435.0,321.5 L438.0,320.9 L441.0,320.4 L444.0,319.8 L447.0,319.2 L450.0,318.7 L453.0,318.2 L456.0,317.6 L459.0,317.1 L462.0,316.6 L465.0,316.1 L468.0,315.5 L471.0,315.0 L474.0,314.4 L477.0,313.8 L480.0,313.2 L483.0,312.6 L486.0,311.9 L489.0,311.3 L492.0,310.6 L495.0,309.9 L498.0,309.2 L501.0,308.5 L504.0,307.7 L507.0,306.9 L510.0,306.1 L513.0,305.2 L516.0,304.4 L519.0,303.5 L522.0,302.7 L525.0,301.8 L528.0,301.0 L531.0,300.1 L534.0,299.3 L537.0,298.4 L540.0,297.6 L543.0,296.7 L546.0,295.8 L549.0,294.8 L552.0,293.8 L555.0,292.8 L558.0,291.8 L561.0,290.7 L564.0,289.7 L567.0,288.5 L570.0,287.3 L573.0,286.0 L576.0,284.7 L579.0,283.2 L582.0,281.4 L585.0,279.5 L588.0,277.6 L591.0,275.6 L594.0,273.7 L597.0,272.1 L600.0,270.6 L603.0,269.3 L606.0,268.0 L609.0,266.9 L612.0,265.8 L615.0,264.7 L618.0,263.7 L621.0,262.6 L624.0,261.6 L627.0,260.6 L630.0,259.7 L633.0,258.8 L636.0,257.9 L639.0,257.1 L642.0,256.1 L645.0,254.9 L648.0,253.7 L651.0,252.4 L654.0,251.1 L657.0,249.9 L660.0,248.6 L663.0,247.4 L666.0,246.1 L669.0,244.9 L672.0,243.6 L675.0,242.3 L678.0,241.1 L681.0,239.8 L684.0,238.5 L687.0,237.2 L690.0,236.0 L693.0,234.7 L696.0,233.4 L699.0,232.0 L702.0,230.7 L705.0,229.4 L708.0,228.0 L711.0,226.7 L714.0,225.4 L717.0,224.0 L720.0,222.6 L723.0,221.3 L726.0,219.9 L729.0,218.5 L732.0,217.1 L735.0,215.7 L738.0,214.3 L741.0,212.9 L744.0,211.5 L747.0,210.1 L750.0,208.7 L753.0,207.3 L756.0,205.9 L759.0,204.5 L762.0,203.1 L765.0,201.6 L768.0,200.2 L771.0,198.8 L774.0,197.4 L777.0,195.9 L780.0,194.5 L783.0,193.0 L786.0,191.6 L789.0,190.1 L792.0,188.6 L795.0,187.1 L798.0,185.5 L801.0,184.0 L804.0,182.4 L807.0,180.8 L810.0,179.2 L813.0,177.5 L816.0,175.9 L819.0,174.2 L822.0,172.5 L825.0,170.8 L828.0,169.1 L831.0,167.4 L834.0,165.7 L837.0,164.0 L840.0,162.3 L843.0,160.6 L846.0,158.9 L849.0,157.2 L852.0,155.5 L855.0,153.8 L858.0,152.1 L861.0,150.5 L864.0,148.8 L867.0,147.1 L870.0,145.4 L873.0,143.7 L876.0,142.1 L879.0,140.3 L882.0,138.6 L885.0,136.9 L888.0,135.2 L891.0,133.4 L893.5,131.9" stroke="#000" stroke-width="2.7" stroke-dasharray="10,9"/>
<path d="M137.3,470.5 L138.5,463.4 L139.7,457.6 L140.9,451.8 L142.0,445.9 L143.2,440.4 L144.4,436.2 L145.6,431.9 L146.8,427.6 L148.0,423.3 L149.2,419.3 L150.3,415.5 L151.5,412.1 L152.7,409.1 L153.9,406.1 L155.1,403.2 L156.3,401.0 L157.5,398.9 L158.6,396.8 L159.8,395.1 L161.0,393.5 L162.2,392.0 L163.4,390.6 L164.6,389.5 L165.8,388.4 L167.0,387.3 L168.1,386.6 L169.3,385.9 L170.5,385.3 L171.7,384.7 L172.9,384.1 L174.1,383.6 L175.3,383.0 L176.4,382.6 L177.6,382.1 L178.8,381.7 L180.0,381.2 L183.0,380.4 L186.0,379.7 L189.0,379.1 L192.0,378.5 L195.0,378.0 L198.0,377.4 L201.0,376.8 L204.0,376.2 L207.0,375.7 L210.0,375.1 L213.0,374.6 L216.0,374.0 L219.0,373.4 L222.0,372.7 L225.0,372.0 L228.0,371.2 L231.0,370.3 L234.0,369.4 L237.0,368.4 L240.0,367.3 L243.0,366.2 L246.0,365.1 L249.0,363.9 L252.0,362.7 L255.0,361.3 L258.0,359.8 L261.0,358.3 L264.0,356.8 L267.0,355.2 L270.0,353.8 L273.0,352.4 L276.0,351.1 L279.0,349.9 L282.0,348.7 L285.0,347.5 L288.0,346.4 L291.0,345.3 L294.0,344.3 L297.0,343.3 L300.0,342.4 L303.0,341.5 L306.0,340.7 L309.0,339.9 L312.0,339.2 L315.0,338.5 L318.0,337.8 L321.0,337.1 L324.0,336.5 L327.0,335.8 L330.0,335.2 L333.0,334.7 L336.0,334.1 L339.0,333.5 L342.0,333.0 L345.0,332.5 L348.0,332.0 L351.0,331.4 L354.0,330.9 L357.0,330.4 L360.0,329.9 L363.0,329.4 L366.0,328.9 L369.0,328.4 L372.0,327.9 L375.0,327.4 L378.0,326.9 L381.0,326.4 L384.0,325.9 L387.0,325.5 L390.0,325.0 L393.0,324.5 L396.0,323.9 L399.0,323.4 L402.0,322.9 L405.0,322.4 L408.0,321.9 L411.0,321.4 L414.0,320.9 L417.0,320.4 L420.0,319.9 L423.0,319.3 L426.0,318.8 L429.0,318.3 L432.0,317.7 L435.0,317.2 L438.0,316.6 L441.0,316.0 L444.0,315.4 L447.0,314.8 L450.0,314.1 L453.0,313.4 L456.0,312.6 L459.0,311.8 L462.0,310.9 L465.0,310.0 L468.0,309.1 L471.0,308.3 L474.0,307.5 L477.0,306.7 L480.0,306.0 L483.0,305.4 L486.0,304.8 L489.0,304.1 L492.0,303.5 L495.0,302.7 L498.0,301.8 L501.0,300.8 L504.0,299.2 L507.0,297.7 L510.0,296.7 L513.0,296.0 L516.0,295.3 L519.0,294.3 L522.0,293.2 L525.0,292.2 L528.0,291.3 L531.0,290.4 L534.0,289.4 L537.0,288.3 L540.0,287.3 L543.0,286.4 L546.0,285.5 L549.0,284.6 L552.0,283.6 L555.0,282.5 L558.0,281.2 L561.0,279.7 L564.0,278.1 L567.0,276.4 L570.0,274.5 L573.0,272.7 L576.0,270.8 L579.0,269.0 L582.0,267.5 L585.0,266.0 L588.0,264.6 L591.0,263.3 L594.0,262.0 L597.0,260.7 L600.0,259.5 L603.0,258.3 L606.0,257.2 L609.0,256.1 L612.0,255.0 L615.0,253.9 L618.0,252.9 L621.0,251.8 L624.0,250.7 L627.0,249.5 L630.0,248.4 L633.0,247.2 L636.0,246.0 L639.0,244.8 L642.0,243.6 L645.0,242.4 L648.0,241.1 L651.0,239.9 L654.0,238.6 L657.0,237.3 L660.0,235.9 L663.0,234.6 L666.0,233.2 L669.0,231.8 L672.0,230.4 L675.0,229.0 L678.0,227.6 L681.0,226.1 L684.0,224.7 L687.0,223.3 L690.0,221.8 L693.0,220.4 L696.0,218.9 L699.0,217.5 L702.0,216.0 L705.0,214.6 L708.0,213.1 L711.0,211.6 L714.0,210.1 L717.0,208.6 L720.0,207.1 L723.0,205.6 L726.0,204.1 L729.0,202.6 L732.0,201.1 L735.0,199.6 L738.0,198.0 L741.0,196.5 L744.0,195.0 L747.0,193.5 L750.0,192.0 L753.0,190.5 L756.0,189.0 L759.0,187.6 L762.0,186.1 L765.0,184.6 L768.0,183.2 L771.0,181.7 L774.0,180.2 L777.0,178.8 L780.0,177.3 L783.0,175.8 L786.0,174.3 L789.0,172.8 L792.0,171.2 L795.0,169.7 L798.0,168.1 L801.0,166.5 L804.0,164.8 L807.0,163.1 L810.0,161.4 L813.0,159.7 L816.0,158.0 L819.0,156.2 L822.0,154.4 L825.0,152.6 L828.0,150.8 L831.0,149.0 L834.0,147.3 L837.0,145.5 L840.0,143.7 L843.0,141.9 L846.0,140.1 L849.0,138.4 L852.0,136.6 L855.0,134.9 L858.0,133.2 L860.3,131.9" stroke="#000" stroke-width="2.7" stroke-dasharray="10,9"/>
<path d="M136.1,476.0 L137.3,465.0 L138.5,457.5 L139.7,451.6 L140.9,445.6 L142.0,439.3 L143.2,433.6 L144.4,429.6 L145.6,425.5 L146.8,421.5 L148.0,417.5 L149.2,413.6 L150.3,409.9 L151.5,406.6 L152.7,403.7 L153.9,400.8 L155.1,398.0 L156.3,396.0 L157.5,394.0 L158.6,392.0 L159.8,390.4 L161.0,389.1 L162.2,387.7 L163.4,386.5 L164.6,385.4 L165.8,384.4 L167.0,383.4 L168.1,382.8 L169.3,382.2 L170.5,381.6 L171.7,381.0 L172.9,380.5 L174.1,380.0 L175.3,379.5 L176.4,379.1 L177.6,378.7 L178.8,378.2 L180.0,377.8 L183.0,377.0 L186.0,376.3 L189.0,375.6 L192.0,375.1 L195.0,374.5 L198.0,373.9 L201.0,373.3 L204.0,372.7 L207.0,372.2 L210.0,371.6 L213.0,371.1 L216.0,370.5 L219.0,369.9 L222.0,369.3 L225.0,368.5 L228.0,367.6 L231.0,366.6 L234.0,365.4 L237.0,364.1 L240.0,362.8 L243.0,361.4 L246.0,360.0 L249.0,358.6 L252.0,357.3 L255.0,355.9 L258.0,354.5 L261.0,353.0 L264.0,351.5 L267.0,350.1 L270.0,348.7 L273.0,347.3 L276.0,346.1 L279.0,344.9 L282.0,343.6 L285.0,342.5 L288.0,341.3 L291.0,340.2 L294.0,339.2 L297.0,338.2 L300.0,337.4 L303.0,336.6 L306.0,336.0 L309.0,335.3 L312.0,334.7 L315.0,334.2 L318.0,333.6 L321.0,333.0 L324.0,332.4 L327.0,331.9 L330.0,331.3 L333.0,330.7 L336.0,330.1 L339.0,329.5 L342.0,328.9 L345.0,328.3 L348.0,327.8 L351.0,327.2 L354.0,326.7 L357.0,326.1 L360.0,325.6 L363.0,325.0 L366.0,324.5 L369.0,323.9 L372.0,323.4 L375.0,322.9 L378.0,322.4 L381.0,321.8 L384.0,321.3 L387.0,320.7 L390.0,320.2 L393.0,319.6 L396.0,319.0 L399.0,318.4 L402.0,317.9 L405.0,317.3 L408.0,316.6 L411.0,316.0 L414.0,315.4 L417.0,314.8 L420.0,314.2 L423.0,313.5 L426.0,312.9 L429.0,312.3 L432.0,311.6 L435.0,310.9 L438.0,310.2 L441.0,309.6 L444.0,308.8 L447.0,308.1 L450.0,307.4 L453.0,306.6 L456.0,305.8 L459.0,305.0 L462.0,304.2 L465.0,303.3 L468.0,302.5 L471.0,301.6 L474.0,300.8 L477.0,300.0 L480.0,299.2 L483.0,298.5 L486.0,297.7 L489.0,297.0 L492.0,296.2 L495.0,295.3 L498.0,294.4 L501.0,293.3 L504.0,291.9 L507.0,290.5 L510.0,289.4 L513.0,288.6 L516.0,287.7 L519.0,286.7 L522.0,285.6 L525.0,284.5 L528.0,283.4 L531.0,282.2 L534.0,280.7 L537.0,279.0 L540.0,277.3 L543.0,275.6 L546.0,273.8 L549.0,271.8 L552.0,269.7 L555.0,267.5 L558.0,265.7 L561.0,264.0 L564.0,262.5 L567.0,261.1 L570.0,259.7 L573.0,258.5 L576.0,257.5 L579.0,256.5 L582.0,255.4 L585.0,254.3 L588.0,253.2 L591.0,252.1 L594.0,251.0 L597.0,249.9 L600.0,248.7 L603.0,247.5 L606.0,246.3 L609.0,245.0 L612.0,243.8 L615.0,242.5 L618.0,241.2 L621.0,239.9 L624.0,238.7 L627.0,237.4 L630.0,236.2 L633.0,235.0 L636.0,233.7 L639.0,232.5 L642.0,231.2 L645.0,230.0 L648.0,228.7 L651.0,227.4 L654.0,226.0 L657.0,224.6 L660.0,223.2 L663.0,221.8 L666.0,220.4 L669.0,219.0 L672.0,217.6 L675.0,216.1 L678.0,214.6 L681.0,213.2 L684.0,211.7 L687.0,210.2 L690.0,208.7 L693.0,207.2 L696.0,205.7 L699.0,204.2 L702.0,202.7 L705.0,201.2 L708.0,199.7 L711.0,198.1 L714.0,196.6 L717.0,195.1 L720.0,193.5 L723.0,192.0 L726.0,190.4 L729.0,188.8 L732.0,187.3 L735.0,185.7 L738.0,184.1 L741.0,182.5 L744.0,181.0 L747.0,179.4 L750.0,177.8 L753.0,176.2 L756.0,174.7 L759.0,173.1 L762.0,171.5 L765.0,170.0 L768.0,168.4 L771.0,166.9 L774.0,165.3 L777.0,163.7 L780.0,162.1 L783.0,160.5 L786.0,158.9 L789.0,157.3 L792.0,155.7 L795.0,154.0 L798.0,152.3 L801.0,150.6 L804.0,148.9 L807.0,147.2 L810.0,145.4 L813.0,143.6 L816.0,141.8 L819.0,140.0 L822.0,138.1 L825.0,136.3 L828.0,134.4 L831.0,132.5 L832.0,131.9" stroke="#000" stroke-width="2.7" stroke-dasharray="10,9"/>
<path d="M136.1,470.2 L137.3,459.5 L138.5,451.6 L139.7,445.6 L140.9,439.3 L142.0,432.7 L143.2,426.7 L144.4,422.9 L145.6,419.1 L146.8,415.4 L148.0,411.6 L149.2,407.9 L150.3,404.3 L151.5,401.1 L152.7,398.3 L153.9,395.5 L155.1,392.8 L156.3,390.9 L157.5,389.0 L158.6,387.1 L159.8,385.7 L161.0,384.5 L162.2,383.3 L163.4,382.2 L164.6,381.2 L165.8,380.3 L167.0,379.3 L168.1,378.8 L169.3,378.2 L170.5,377.7 L171.7,377.2 L172.9,376.7 L174.1,376.2 L175.3,375.7 L176.4,375.3 L177.6,374.9 L178.8,374.5 L180.0,374.1 L183.0,373.5 L186.0,373.0 L189.0,372.5 L192.0,372.2 L195.0,371.8 L198.0,371.3 L201.0,370.8 L204.0,370.2 L207.0,369.6 L210.0,369.0 L213.0,368.3 L216.0,367.6 L219.0,366.8 L222.0,365.9 L225.0,365.0 L228.0,363.9 L231.0,362.6 L234.0,361.2 L237.0,359.6 L240.0,358.0 L243.0,356.4 L246.0,354.8 L249.0,353.3 L252.0,351.9 L255.0,350.4 L258.0,349.0 L261.0,347.6 L264.0,346.2 L267.0,344.9 L270.0,343.6 L273.0,342.3 L276.0,341.1 L279.0,339.9 L282.0,338.8 L285.0,337.6 L288.0,336.5 L291.0,335.5 L294.0,334.5 L297.0,333.6 L300.0,332.8 L303.0,332.1 L306.0,331.5 L309.0,330.9 L312.0,330.3 L315.0,329.8 L318.0,329.3 L321.0,328.8 L324.0,328.2 L327.0,327.6 L330.0,327.0 L333.0,326.4 L336.0,325.7 L339.0,325.1 L342.0,324.4 L345.0,323.8 L348.0,323.2 L351.0,322.6 L354.0,322.0 L357.0,321.4 L360.0,320.9 L363.0,320.3 L366.0,319.8 L369.0,319.2 L372.0,318.7 L375.0,318.1 L378.0,317.6 L381.0,317.0 L384.0,316.5 L387.0,315.9 L390.0,315.3 L393.0,314.7 L396.0,314.1 L399.0,313.5 L402.0,312.8 L405.0,312.2 L408.0,311.5 L411.0,310.8 L414.0,310.2 L417.0,309.5 L420.0,308.8 L423.0,308.1 L426.0,307.4 L429.0,306.6 L432.0,305.8 L435.0,305.1 L438.0,304.3 L441.0,303.4 L444.0,302.6 L447.0,301.7 L450.0,300.8 L453.0,299.7 L456.0,298.5 L459.0,297.3 L462.0,296.1 L465.0,295.0 L468.0,294.1 L471.0,293.4 L474.0,292.6 L477.0,291.9 L480.0,291.2 L483.0,290.4 L486.0,289.6 L489.0,288.8 L492.0,287.9 L495.0,286.9 L498.0,285.9 L501.0,284.6 L504.0,283.2 L507.0,281.7 L510.0,280.5 L513.0,279.4 L516.0,278.1 L519.0,276.5 L522.0,274.6 L525.0,272.6 L528.0,270.5 L531.0,268.4 L534.0,266.4 L537.0,264.6 L540.0,262.9 L543.0,261.5 L546.0,260.1 L549.0,258.9 L552.0,257.7 L555.0,256.5 L558.0,255.3 L561.0,254.1 L564.0,252.9 L567.0,251.8 L570.0,250.8 L573.0,249.7 L576.0,248.5 L579.0,247.3 L582.0,246.0 L585.0,244.7 L588.0,243.3 L591.0,241.9 L594.0,240.5 L597.0,239.2 L600.0,237.8 L603.0,236.5 L606.0,235.2 L609.0,233.9 L612.0,232.6 L615.0,231.3 L618.0,230.0 L621.0,228.7 L624.0,227.4 L627.0,226.1 L630.0,224.9 L633.0,223.6 L636.0,222.3 L639.0,221.0 L642.0,219.8 L645.0,218.4 L648.0,217.1 L651.0,215.7 L654.0,214.3 L657.0,212.9 L660.0,211.5 L663.0,210.0 L666.0,208.6 L669.0,207.1 L672.0,205.6 L675.0,204.1 L678.0,202.6 L681.0,201.1 L684.0,199.5 L687.0,198.0 L690.0,196.4 L693.0,194.9 L696.0,193.3 L699.0,191.7 L702.0,190.1 L705.0,188.6 L708.0,186.9 L711.0,185.3 L714.0,183.7 L717.0,182.0 L720.0,180.4 L723.0,178.7 L726.0,177.1 L729.0,175.4 L732.0,173.7 L735.0,172.0 L738.0,170.4 L741.0,168.7 L744.0,167.0 L747.0,165.4 L750.0,163.7 L753.0,162.1 L756.0,160.5 L759.0,158.9 L762.0,157.3 L765.0,155.7 L768.0,154.2 L771.0,152.6 L774.0,151.1 L777.0,149.5 L780.0,147.9 L783.0,146.3 L786.0,144.6 L789.0,142.9 L792.0,141.1 L795.0,139.3 L798.0,137.5 L801.0,135.5 L804.0,133.4 L806.0,131.9" stroke="#000" stroke-width="2.7" stroke-dasharray="10,9"/>
<path d="M134.9,478.3 L136.1,464.4 L137.3,454.0 L138.5,445.8 L139.7,439.5 L140.9,433.0 L142.0,426.1 L143.2,419.9 L144.4,416.4 L145.6,412.8 L146.8,409.2 L148.0,405.7 L149.2,402.2 L150.3,398.8 L151.5,395.7 L152.7,393.0 L153.9,390.3 L155.1,387.6 L156.3,385.9 L157.5,384.1 L158.6,382.3 L159.8,381.1 L161.0,380.1 L162.2,379.1 L163.4,378.1 L164.6,377.2 L165.8,376.3 L167.0,375.4 L168.1,374.9 L169.3,374.5 L170.5,374.0 L171.7,373.5 L172.9,373.1 L174.1,372.7 L175.3,372.2 L176.4,371.9 L177.6,371.5 L178.8,371.1 L180.0,370.8 L183.0,370.1 L186.0,369.6 L189.0,369.2 L192.0,368.8 L195.0,368.4 L198.0,367.9 L201.0,367.3 L204.0,366.6 L207.0,365.7 L210.0,364.8 L213.0,363.9 L216.0,362.8 L219.0,361.7 L222.0,360.6 L225.0,359.5 L228.0,358.3 L231.0,357.0 L234.0,355.6 L237.0,354.2 L240.0,352.7 L243.0,351.2 L246.0,349.7 L249.0,348.3 L252.0,346.8 L255.0,345.4 L258.0,343.9 L261.0,342.4 L264.0,340.9 L267.0,339.5 L270.0,338.1 L273.0,336.8 L276.0,335.6 L279.0,334.5 L282.0,333.4 L285.0,332.3 L288.0,331.3 L291.0,330.3 L294.0,329.4 L297.0,328.6 L300.0,327.8 L303.0,327.1 L306.0,326.5 L309.0,325.9 L312.0,325.3 L315.0,324.8 L318.0,324.3 L321.0,323.7 L324.0,323.2 L327.0,322.6 L330.0,322.1 L333.0,321.5 L336.0,321.0 L339.0,320.4 L342.0,319.8 L345.0,319.3 L348.0,318.7 L351.0,318.0 L354.0,317.4 L357.0,316.8 L360.0,316.1 L363.0,315.4 L366.0,314.8 L369.0,314.1 L372.0,313.4 L375.0,312.7 L378.0,311.9 L381.0,311.2 L384.0,310.5 L387.0,309.8 L390.0,309.0 L393.0,308.3 L396.0,307.6 L399.0,306.8 L402.0,306.1 L405.0,305.4 L408.0,304.7 L411.0,304.0 L414.0,303.4 L417.0,302.7 L420.0,302.0 L423.0,301.3 L426.0,300.6 L429.0,299.9 L432.0,299.2 L435.0,298.4 L438.0,297.5 L441.0,296.7 L444.0,295.7 L447.0,294.7 L450.0,293.7 L453.0,292.3 L456.0,290.8 L459.0,289.6 L462.0,288.7 L465.0,287.8 L468.0,286.8 L471.0,285.8 L474.0,284.7 L477.0,283.7 L480.0,282.6 L483.0,281.5 L486.0,280.4 L489.0,279.2 L492.0,277.7 L495.0,276.1 L498.0,274.3 L501.0,272.4 L504.0,270.5 L507.0,268.4 L510.0,266.0 L513.0,263.8 L516.0,261.9 L519.0,260.2 L522.0,258.7 L525.0,257.2 L528.0,255.9 L531.0,254.8 L534.0,253.8 L537.0,253.0 L540.0,252.1 L543.0,251.1 L546.0,250.0 L549.0,249.0 L552.0,248.0 L555.0,246.9 L558.0,245.6 L561.0,244.2 L564.0,242.7 L567.0,241.1 L570.0,239.4 L573.0,237.9 L576.0,236.4 L579.0,235.0 L582.0,233.7 L585.0,232.3 L588.0,231.0 L591.0,229.7 L594.0,228.4 L597.0,227.1 L600.0,225.8 L603.0,224.4 L606.0,223.1 L609.0,221.7 L612.0,220.4 L615.0,219.1 L618.0,217.7 L621.0,216.3 L624.0,215.0 L627.0,213.6 L630.0,212.2 L633.0,210.7 L636.0,209.3 L639.0,207.9 L642.0,206.4 L645.0,204.9 L648.0,203.4 L651.0,201.9 L654.0,200.3 L657.0,198.8 L660.0,197.2 L663.0,195.6 L666.0,194.0 L669.0,192.3 L672.0,190.7 L675.0,189.0 L678.0,187.4 L681.0,185.7 L684.0,184.1 L687.0,182.4 L690.0,180.7 L693.0,179.1 L696.0,177.5 L699.0,175.8 L702.0,174.2 L705.0,172.6 L708.0,171.1 L711.0,169.5 L714.0,167.9 L717.0,166.4 L720.0,164.8 L723.0,163.3 L726.0,161.7 L729.0,160.2 L732.0,158.6 L735.0,157.0 L738.0,155.4 L741.0,153.8 L744.0,152.1 L747.0,150.4 L750.0,148.7 L753.0,146.9 L756.0,145.2 L759.0,143.3 L762.0,141.5 L765.0,139.6 L768.0,137.7 L771.0,135.8 L774.0,133.9 L777.0,131.9" stroke="#000" stroke-width="2.7" stroke-dasharray="10,9"/>
<path d="M134.9,473.0 L136.1,458.7 L137.3,448.5 L138.5,439.9 L139.7,433.5 L140.9,426.7 L142.0,419.5 L143.2,413.1 L144.4,409.7 L145.6,406.4 L146.8,403.1 L148.0,399.8 L149.2,396.5 L150.3,393.1 L151.5,390.1 L152.7,387.5 L153.9,384.9 L155.1,382.4 L156.3,380.7 L157.5,379.1 L158.6,377.4 L159.8,376.3 L161.0,375.5 L162.2,374.7 L163.4,373.8 L164.6,373.0 L165.8,372.2 L167.0,371.3 L168.1,370.9 L169.3,370.5 L170.5,370.1 L171.7,369.7 L172.9,369.2 L174.1,368.8 L175.3,368.4 L176.4,368.1 L177.6,367.7 L178.8,367.4 L180.0,367.0 L183.0,366.4 L186.0,366.0 L189.0,365.6 L192.0,365.2 L195.0,364.8 L198.0,364.4 L201.0,363.8 L204.0,363.0 L207.0,362.1 L210.0,361.1 L213.0,360.0 L216.0,358.8 L219.0,357.5 L222.0,356.3 L225.0,355.0 L228.0,353.7 L231.0,352.3 L234.0,350.8 L237.0,349.2 L240.0,347.7 L243.0,346.1 L246.0,344.5 L249.0,343.0 L252.0,341.5 L255.0,340.0 L258.0,338.4 L261.0,336.9 L264.0,335.4 L267.0,333.9 L270.0,332.6 L273.0,331.3 L276.0,330.1 L279.0,329.0 L282.0,328.0 L285.0,327.0 L288.0,326.1 L291.0,325.2 L294.0,324.3 L297.0,323.5 L300.0,322.8 L303.0,322.1 L306.0,321.5 L309.0,320.9 L312.0,320.4 L315.0,319.8 L318.0,319.3 L321.0,318.8 L324.0,318.2 L327.0,317.6 L330.0,317.0 L333.0,316.4 L336.0,315.8 L339.0,315.2 L342.0,314.6 L345.0,313.9 L348.0,313.3 L351.0,312.6 L354.0,311.9 L357.0,311.1 L360.0,310.4 L363.0,309.6 L366.0,308.9 L369.0,308.1 L372.0,307.3 L375.0,306.5 L378.0,305.7 L381.0,304.9 L384.0,304.0 L387.0,303.2 L390.0,302.4 L393.0,301.5 L396.0,300.6 L399.0,299.8 L402.0,298.9 L405.0,298.1 L408.0,297.2 L411.0,296.3 L414.0,295.4 L417.0,294.5 L420.0,293.5 L423.0,292.6 L426.0,291.7 L429.0,290.7 L432.0,289.8 L435.0,288.8 L438.0,287.9 L441.0,286.9 L444.0,285.9 L447.0,284.9 L450.0,283.9 L453.0,282.9 L456.0,281.8 L459.0,280.7 L462.0,279.6 L465.0,278.3 L468.0,277.0 L471.0,275.5 L474.0,273.9 L477.0,272.2 L480.0,270.3 L483.0,268.5 L486.0,266.7 L489.0,264.9 L492.0,262.9 L495.0,260.7 L498.0,258.7 L501.0,256.9 L504.0,255.3 L507.0,253.8 L510.0,252.6 L513.0,251.5 L516.0,250.4 L519.0,249.3 L522.0,248.3 L525.0,247.3 L528.0,246.2 L531.0,245.1 L534.0,243.9 L537.0,242.6 L540.0,241.2 L543.0,239.8 L546.0,238.4 L549.0,237.1 L552.0,235.7 L555.0,234.3 L558.0,233.0 L561.0,231.6 L564.0,230.3 L567.0,228.9 L570.0,227.5 L573.0,226.2 L576.0,224.8 L579.0,223.4 L582.0,222.1 L585.0,220.7 L588.0,219.3 L591.0,217.9 L594.0,216.5 L597.0,215.1 L600.0,213.7 L603.0,212.2 L606.0,210.8 L609.0,209.3 L612.0,207.7 L615.0,206.2 L618.0,204.7 L621.0,203.2 L624.0,201.7 L627.0,200.2 L630.0,198.8 L633.0,197.4 L636.0,195.9 L639.0,194.5 L642.0,193.1 L645.0,191.6 L648.0,190.1 L651.0,188.6 L654.0,187.0 L657.0,185.4 L660.0,183.8 L663.0,182.2 L666.0,180.5 L669.0,178.9 L672.0,177.2 L675.0,175.5 L678.0,173.8 L681.0,172.1 L684.0,170.4 L687.0,168.7 L690.0,166.9 L693.0,165.2 L696.0,163.5 L699.0,161.8 L702.0,160.1 L705.0,158.3 L708.0,156.6 L711.0,154.9 L714.0,153.1 L717.0,151.4 L720.0,149.7 L723.0,147.9 L726.0,146.1 L729.0,144.4 L732.0,142.6 L735.0,140.8 L738.0,139.1 L741.0,137.3 L744.0,135.5 L747.0,133.7 L750.0,131.9" stroke="#000" stroke-width="2.7" stroke-dasharray="10,9"/>
</g>
<g fill="none" stroke-linejoin="round">
<path d="M128.6,1101.0 L165.0,1090.0 L205.0,1079.0 L245.0,1068.0 L285.0,1059.0 L325.0,1051.5 L360.0,1042.6 L525.0,1034.0 L611.0,1029.0 L725.0,1006.0 L933.0,964.7" stroke="#00C35A" stroke-width="2.5"/>
<path d="M128.6,1059.4 L165.0,1049.0 L205.0,1038.0 L245.0,1026.0 L285.0,1017.0 L325.0,1009.5 L352.0,1002.5 L525.0,993.8 L595.0,990.0 L725.0,963.8 L893.0,929.4" stroke="#23C800" stroke-width="2.5"/>
<path d="M128.6,1022.0 L165.0,1011.0 L205.0,1000.0 L245.0,988.0 L285.0,980.0 L344.0,967.6 L425.0,964.0 L525.0,958.0 L565.0,956.0 L585.0,953.0 L645.0,940.0 L725.0,924.4 L860.3,897.3" stroke="#96CD00" stroke-width="2.5"/>
<path d="M128.6,988.6 L165.0,978.0 L205.0,965.0 L245.0,955.0 L285.0,947.0 L332.0,936.5 L425.0,932.0 L525.0,926.5 L555.0,924.4 L832.0,868.7" stroke="#CDCD00" stroke-width="2.5"/>
<path d="M128.6,951.0 L185.0,936.0 L245.0,920.0 L285.0,912.0 L324.0,903.5 L425.0,899.0 L525.0,892.4 L535.0,892.0 L725.0,853.5 L806.0,836.4" stroke="#D29B00" stroke-width="2.5"/>
<path d="M128.6,914.0 L165.0,904.0 L205.0,892.0 L245.0,880.0 L285.0,872.0 L313.0,866.6 L325.0,866.8 L425.0,862.0 L511.0,856.0 L525.0,854.5 L725.0,813.5 L777.0,803.4" stroke="#D42D00" stroke-width="2.5"/>
<path d="M128.6,867.5 L165.0,856.0 L205.0,844.0 L245.0,835.0 L285.0,827.0 L305.0,822.5 L325.0,821.4 L425.0,816.0 L491.0,812.0 L525.0,806.0 L725.0,765.0 L749.0,760.9" stroke="#D2002D" stroke-width="2.5"/>
<path d="M128.6,1105.1 L165.0,1095.5 L205.0,1083.5 L225.0,1077.5 L245.0,1070.5 L285.0,1060.5 L325.0,1053.5 L351.0,1045.9 L385.0,1043.5 L525.0,1036.9 L611.0,1031.5 L725.0,1008.5 L933.0,964.2" stroke="#000" stroke-width="2.7" stroke-dasharray="10,9"/>
<path d="M128.6,1051.1 L165.0,1043.5 L205.0,1031.5 L245.0,1020.5 L285.0,1012.5 L325.0,1004.5 L333.0,1002.5 L525.0,991.5 L595.0,986.5 L725.0,959.5 L893.0,928.9" stroke="#000" stroke-width="2.7" stroke-dasharray="10,9"/>
<path d="M128.6,1017.5 L165.0,1008.5 L205.0,998.5 L245.0,987.5 L285.0,979.5 L344.0,967.1 L425.0,963.5 L525.0,957.5 L565.0,955.5 L585.0,952.5 L645.0,939.5 L725.0,923.9 L860.3,896.8" stroke="#000" stroke-width="2.7" stroke-dasharray="10,9"/>
<path d="M128.6,983.1 L165.0,975.5 L205.0,964.5 L245.0,954.5 L285.0,946.5 L332.0,936.0 L425.0,931.5 L525.0,926.0 L555.0,923.9 L832.0,868.2" stroke="#000" stroke-width="2.7" stroke-dasharray="10,9"/>
<path d="M128.6,946.5 L165.0,938.5 L205.0,929.5 L245.0,919.5 L285.0,911.5 L324.0,903.0 L425.0,898.5 L525.0,891.9 L535.0,891.5 L725.0,853.0 L806.0,835.9" stroke="#000" stroke-width="2.7" stroke-dasharray="10,9"/>
<path d="M128.6,905.5 L165.0,898.5 L205.0,888.5 L245.0,878.5 L315.0,868.5 L325.0,866.3 L425.0,861.5 L511.0,855.5 L525.0,854.0 L725.0,813.0 L777.0,802.9" stroke="#000" stroke-width="2.7" stroke-dasharray="10,9"/>
<path d="M128.6,858.0 L165.0,850.5 L205.0,841.5 L245.0,834.5 L285.0,826.5 L305.0,822.0 L325.0,820.9 L425.0,815.5 L491.0,811.5 L525.0,805.5 L725.0,764.5 L749.0,760.4" stroke="#000" stroke-width="2.7" stroke-dasharray="10,9"/>
</g>
<text x="119.5" y="574.8" text-anchor="end" font-family="Liberation Serif, serif" font-size="27.5" fill="#262626">3</text>
<text x="119.5" y="502.2" text-anchor="end" font-family="Liberation Serif, serif" font-size="27.5" fill="#262626">3.2</text>
<text x="119.5" y="429.5" text-anchor="end" font-family="Liberation Serif, serif" font-size="27.5" fill="#262626">3.4</text>
<text x="119.5" y="356.9" text-anchor="end" font-family="Liberation Serif, serif" font-size="27.5" fill="#262626">3.6</text>
<text x="119.5" y="284.2" text-anchor="end" font-family="Liberation Serif, serif" font-size="27.5" fill="#262626">3.8</text>
<text x="119.5" y="211.6" text-anchor="end" font-family="Liberation Serif, serif" font-size="27.5" fill="#262626">4</text>
<text x="119.5" y="138.9" text-anchor="end" font-family="Liberation Serif, serif" font-size="27.5" fill="#262626">4.2</text>
<text x="119.5" y="66.3" text-anchor="end" font-family="Liberation Serif, serif" font-size="27.5" fill="#262626">4.4</text>
<text x="128.6" y="600" text-anchor="middle" font-family="Liberation Serif, serif" font-size="27.5" fill="#262626">0</text>
<text x="290.1" y="600" text-anchor="middle" font-family="Liberation Serif, serif" font-size="27.5" fill="#262626">1</text>
<text x="451.6" y="600" text-anchor="middle" font-family="Liberation Serif, serif" font-size="27.5" fill="#262626">2</text>
<text x="613.2" y="600" text-anchor="middle" font-family="Liberation Serif, serif" font-size="27.5" fill="#262626">3</text>
<text x="774.7" y="600" text-anchor="middle" font-family="Liberation Serif, serif" font-size="27.5" fill="#262626">4</text>
<text x="936.2" y="600" text-anchor="middle" font-family="Liberation Serif, serif" font-size="27.5" fill="#262626">5</text>
<text x="119.5" y="1127.7" text-anchor="end" font-family="Liberation Serif, serif" font-size="27.5" fill="#262626">0</text>
<text x="119.5" y="1065.4" text-anchor="end" font-family="Liberation Serif, serif" font-size="27.5" fill="#262626">50</text>
<text x="119.5" y="1003.1" text-anchor="end" font-family="Liberation Serif, serif" font-size="27.5" fill="#262626">100</text>
<text x="119.5" y="940.8" text-anchor="end" font-family="Liberation Serif, serif" font-size="27.5" fill="#262626">150</text>
<text x="119.5" y="878.5" text-anchor="end" font-family="Liberation Serif, serif" font-size="27.5" fill="#262626">200</text>
<text x="119.5" y="816.1" text-anchor="end" font-family="Liberation Serif, serif" font-size="27.5" fill="#262626">250</text>
<text x="119.5" y="753.8" text-anchor="end" font-family="Liberation Serif, serif" font-size="27.5" fill="#262626">300</text>
<text x="119.5" y="691.5" text-anchor="end" font-family="Liberation Serif, serif" font-size="27.5" fill="#262626">350</text>
<text x="119.5" y="629.2" text-anchor="end" font-family="Liberation Serif, serif" font-size="27.5" fill="#262626">400</text>
<text x="128.6" y="1152.6" text-anchor="middle" font-family="Liberation Serif, serif" font-size="27.5" fill="#262626">0</text>
<text x="290.1" y="1152.6" text-anchor="middle" font-family="Liberation Serif, serif" font-size="27.5" fill="#262626">1</text>
<text x="451.6" y="1152.6" text-anchor="middle" font-family="Liberation Serif, serif" font-size="27.5" fill="#262626">2</text>
<text x="613.2" y="1152.6" text-anchor="middle" font-family="Liberation Serif, serif" font-size="27.5" fill="#262626">3</text>
<text x="774.7" y="1152.6" text-anchor="middle" font-family="Liberation Serif, serif" font-size="27.5" fill="#262626">4</text>
<text x="936.2" y="1152.6" text-anchor="middle" font-family="Liberation Serif, serif" font-size="27.5" fill="#262626">5</text>
<text transform="translate(70.5,317) rotate(-90)" text-anchor="middle" font-family="Liberation Serif, serif" font-size="31" fill="#262626" textLength="149" lengthAdjust="spacingAndGlyphs">Voltage [V]</text>
<text transform="translate(64.5,870) rotate(-90)" text-anchor="middle" font-family="Liberation Serif, serif" font-size="31" fill="#262626" textLength="324" lengthAdjust="spacingAndGlyphs">Total Expansion (<tspan font-style="italic">δ</tspan>) [<tspan font-style="italic">µm</tspan>]</text>
<text x="548" y="1190" text-anchor="middle" font-family="Liberation Serif, serif" font-size="31" fill="#262626" textLength="332" lengthAdjust="spacingAndGlyphs">Charge capacity (<tspan font-style="italic">Q</tspan>) [Ah]</text>
<text x="10" y="55" font-family="Liberation Serif, serif" font-size="46" font-weight="bold" fill="#000" textLength="48.6" lengthAdjust="spacingAndGlyphs">(a)</text>
<text x="7.7" y="625.3" font-family="Liberation Serif, serif" font-size="46" font-weight="bold" fill="#000" textLength="50.4" lengthAdjust="spacingAndGlyphs">(b)</text>
<text x="352" y="32" font-family="Liberation Serif, serif" font-size="43" font-weight="bold" fill="#000" textLength="225.4" lengthAdjust="spacingAndGlyphs">(1.5C)(1.5C)</text>
<line x1="580.7" y1="20.2" x2="623.6" y2="20.2" stroke="#000" stroke-width="1.6"/>
<text x="624.7" y="32" font-family="Liberation Serif, serif" font-size="43" font-weight="bold" fill="#000" textLength="29.7" lengthAdjust="spacingAndGlyphs">@</text>
<text x="668.7" y="32.6" font-family="Liberation Serif, serif" font-size="43" font-weight="bold" fill="#C55A11" textLength="78" lengthAdjust="spacingAndGlyphs">45°C</text>
<text x="458.2" y="177.3" font-family="Liberation Serif, serif" font-size="27.5" fill="#000" textLength="111.3" lengthAdjust="spacingAndGlyphs">76% aged</text>
<text x="834.9" y="230.2" font-family="Liberation Serif, serif" font-size="27.5" fill="#000" textLength="56.2" lengthAdjust="spacingAndGlyphs">fresh</text>
<text x="559.5" y="738.2" font-family="Liberation Serif, serif" font-size="27.5" fill="#000" textLength="112.2" lengthAdjust="spacingAndGlyphs">76% aged</text>
<text x="854.9" y="1026.7" font-family="Liberation Serif, serif" font-size="27.5" fill="#000" textLength="56.2" lengthAdjust="spacingAndGlyphs">fresh</text>
<text x="781.7" y="102.5" font-family="Liberation Serif, serif" font-size="24" fill="#000" textLength="133" lengthAdjust="spacingAndGlyphs">Capacity fade</text>
<text x="869" y="783.6" text-anchor="middle" font-family="Liberation Serif, serif" font-size="24" fill="#000">Irreversible</text>
<text x="869" y="812" text-anchor="middle" font-family="Liberation Serif, serif" font-size="24" fill="#000">expansion</text>
<text x="464.9" y="1090.7" font-family="Liberation Serif, serif" font-size="24" fill="#000" textLength="206" lengthAdjust="spacingAndGlyphs">Reversible expansion</text>
<line x1="934.6" y1="112" x2="758" y2="112" stroke="#C00000" stroke-width="4"/>
<path d="M740,112 L760.4,101.8 L760.4,122.3 Z" fill="#C00000"/>
<line x1="790" y1="1010" x2="790" y2="770" stroke="#C00000" stroke-width="4"/>
<path d="M790,751 L779.4,771.6 L800.6,771.6 Z" fill="#C00000"/>
<line x1="303" y1="1087.7" x2="737" y2="1031.5" stroke="#4472C4" stroke-width="4"/>
<path d="M285.5,1090 L304.5,1077.2 L307.2,1097.8 Z" fill="#4472C4"/>
<path d="M754.8,1029.2 L733.3,1021.5 L735.5,1041.8 Z" fill="#4472C4"/>
<rect x="180.4" y="106.7" width="133.9" height="65.6" fill="#fff" stroke="#555" stroke-width="1.1"/>
<line x1="186.0" y1="124.3" x2="238.0" y2="124.3" stroke="#00C35A" stroke-width="3"/>
<line x1="186.0" y1="154.5" x2="238.0" y2="154.5" stroke="#000" stroke-width="3" stroke-dasharray="10,10.5"/>
<text x="242.0" y="130.5" font-family="Liberation Serif, serif" font-size="25" fill="#000" textLength="65.6" lengthAdjust="spacingAndGlyphs">Model</text>
<text x="242.0" y="160.6" font-family="Liberation Serif, serif" font-size="25" fill="#000" textLength="47.2" lengthAdjust="spacingAndGlyphs">data</text>
<rect x="822.5" y="636.2" width="132.3" height="63.7" fill="#fff" stroke="#555" stroke-width="1.1"/>
<line x1="827.6" y1="653.3" x2="878.8" y2="653.3" stroke="#00C35A" stroke-width="3"/>
<line x1="827.6" y1="682.9" x2="878.8" y2="682.9" stroke="#000" stroke-width="3" stroke-dasharray="10,10.5"/>
<text x="883.3" y="658.9" font-family="Liberation Serif, serif" font-size="25" fill="#000" textLength="65.9" lengthAdjust="spacingAndGlyphs">Model</text>
<text x="883.3" y="688.2" font-family="Liberation Serif, serif" font-size="25" fill="#000" textLength="48.0" lengthAdjust="spacingAndGlyphs">data</text>
<rect x="229.0" y="423.6" width="135.6" height="120.4" fill="#fff" stroke="#888" stroke-width="1"/>
<path d="M286.9,423.6v3M286.9,544.0v-3M344.9,423.6v3M344.9,544.0v-3M229.0,544.0h3M364.6,544.0h-3M229.0,483.8h3M364.6,483.8h-3M229.0,423.6h3M364.6,423.6h-3" stroke="#888" stroke-width="1" fill="none"/>
<text x="229.0" y="413.5" text-anchor="middle" font-family="Liberation Serif, serif" font-size="18" fill="#262626">100</text>
<text x="286.9" y="413.5" text-anchor="middle" font-family="Liberation Serif, serif" font-size="18" fill="#262626">90</text>
<text x="344.9" y="413.5" text-anchor="middle" font-family="Liberation Serif, serif" font-size="18" fill="#262626">80</text>
<text x="297.3" y="390.4" text-anchor="middle" font-family="Liberation Serif, serif" font-size="19.5" fill="#262626" textLength="71.6" lengthAdjust="spacingAndGlyphs">SOH [%]</text>
<text x="223.5" y="549.0" text-anchor="end" font-family="Liberation Serif, serif" font-size="18" fill="#262626">0.7</text>
<text x="223.5" y="488.8" text-anchor="end" font-family="Liberation Serif, serif" font-size="18" fill="#262626">0.8</text>
<text x="223.5" y="428.6" text-anchor="end" font-family="Liberation Serif, serif" font-size="18" fill="#262626">0.9</text>
<polyline points="229.0,427.2 260.2,439.0 284.2,456.0 305.0,472.8 322.4,489.0 343.8,506.0 364.2,524.2" fill="none" stroke="#0000FF" stroke-width="1.6"/>
<circle cx="229.0" cy="427.2" r="2.3" fill="#0000FF"/>
<circle cx="260.2" cy="439.0" r="2.3" fill="#0000FF"/>
<circle cx="284.2" cy="456.0" r="2.3" fill="#0000FF"/>
<circle cx="305.0" cy="472.8" r="2.3" fill="#0000FF"/>
<circle cx="322.4" cy="489.0" r="2.3" fill="#0000FF"/>
<circle cx="343.8" cy="506.0" r="2.3" fill="#0000FF"/>
<circle cx="364.2" cy="524.2" r="2.3" fill="#0000FF"/>
<rect x="424.4" y="423.6" width="135.2" height="120.4" fill="#fff" stroke="#888" stroke-width="1"/>
<path d="M482.2,423.6v3M482.2,544.0v-3M540.0,423.6v3M540.0,544.0v-3M424.4,544.0h3M559.6,544.0h-3M424.4,495.8h3M559.6,495.8h-3M424.4,447.7h3M559.6,447.7h-3" stroke="#888" stroke-width="1" fill="none"/>
<text x="424.4" y="413.5" text-anchor="middle" font-family="Liberation Serif, serif" font-size="18" fill="#262626">100</text>
<text x="482.2" y="413.5" text-anchor="middle" font-family="Liberation Serif, serif" font-size="18" fill="#262626">90</text>
<text x="540.0" y="413.5" text-anchor="middle" font-family="Liberation Serif, serif" font-size="18" fill="#262626">80</text>
<text x="492.5" y="390.4" text-anchor="middle" font-family="Liberation Serif, serif" font-size="19.5" fill="#262626" textLength="71.6" lengthAdjust="spacingAndGlyphs">SOH [%]</text>
<text x="418.9" y="549.0" text-anchor="end" font-family="Liberation Serif, serif" font-size="18" fill="#262626">4</text>
<text x="418.9" y="500.8" text-anchor="end" font-family="Liberation Serif, serif" font-size="18" fill="#262626">5</text>
<text x="418.9" y="452.7" text-anchor="end" font-family="Liberation Serif, serif" font-size="18" fill="#262626">6</text>
<polyline points="424.4,457.6 456.0,466.0 479.6,468.6 500.6,469.8 518.0,470.2 539.8,472.0 559.6,473.0" fill="none" stroke="#0000FF" stroke-width="1.6"/>
<circle cx="424.4" cy="457.6" r="2.3" fill="#0000FF"/>
<circle cx="456.0" cy="466.0" r="2.3" fill="#0000FF"/>
<circle cx="479.6" cy="468.6" r="2.3" fill="#0000FF"/>
<circle cx="500.6" cy="469.8" r="2.3" fill="#0000FF"/>
<circle cx="518.0" cy="470.2" r="2.3" fill="#0000FF"/>
<circle cx="539.8" cy="472.0" r="2.3" fill="#0000FF"/>
<circle cx="559.6" cy="473.0" r="2.3" fill="#0000FF"/>
<rect x="620.0" y="423.6" width="135.4" height="120.4" fill="#fff" stroke="#888" stroke-width="1"/>
<path d="M677.9,423.6v3M677.9,544.0v-3M735.7,423.6v3M735.7,544.0v-3M620.0,544.0h3M755.4,544.0h-3M620.0,483.8h3M755.4,483.8h-3M620.0,423.6h3M755.4,423.6h-3" stroke="#888" stroke-width="1" fill="none"/>
<text x="620.0" y="413.5" text-anchor="middle" font-family="Liberation Serif, serif" font-size="18" fill="#262626">100</text>
<text x="677.9" y="413.5" text-anchor="middle" font-family="Liberation Serif, serif" font-size="18" fill="#262626">90</text>
<text x="735.7" y="413.5" text-anchor="middle" font-family="Liberation Serif, serif" font-size="18" fill="#262626">80</text>
<text x="688.2" y="390.4" text-anchor="middle" font-family="Liberation Serif, serif" font-size="19.5" fill="#262626" textLength="71.6" lengthAdjust="spacingAndGlyphs">SOH [%]</text>
<text x="614.5" y="549.0" text-anchor="end" font-family="Liberation Serif, serif" font-size="18" fill="#262626">0.6</text>
<text x="614.5" y="488.8" text-anchor="end" font-family="Liberation Serif, serif" font-size="18" fill="#262626">0.8</text>
<text x="614.5" y="428.6" text-anchor="end" font-family="Liberation Serif, serif" font-size="18" fill="#262626">1</text>
<polyline points="620.0,475.4 651.4,479.2 675.6,478.2 696.0,476.6 713.4,475.0 735.0,472.6 755.4,470.0" fill="none" stroke="#0000FF" stroke-width="1.6"/>
<circle cx="620.0" cy="475.4" r="2.3" fill="#0000FF"/>
<circle cx="651.4" cy="479.2" r="2.3" fill="#0000FF"/>
<circle cx="675.6" cy="478.2" r="2.3" fill="#0000FF"/>
<circle cx="696.0" cy="476.6" r="2.3" fill="#0000FF"/>
<circle cx="713.4" cy="475.0" r="2.3" fill="#0000FF"/>
<circle cx="735.0" cy="472.6" r="2.3" fill="#0000FF"/>
<circle cx="755.4" cy="470.0" r="2.3" fill="#0000FF"/>
<rect x="815.4" y="423.6" width="135.6" height="120.4" fill="#fff" stroke="#888" stroke-width="1"/>
<path d="M873.3,423.6v3M873.3,544.0v-3M931.3,423.6v3M931.3,544.0v-3M815.4,544.0h3M951.0,544.0h-3M815.4,495.8h3M951.0,495.8h-3M815.4,447.7h3M951.0,447.7h-3" stroke="#888" stroke-width="1" fill="none"/>
<text x="815.4" y="413.5" text-anchor="middle" font-family="Liberation Serif, serif" font-size="18" fill="#262626">100</text>
<text x="873.3" y="413.5" text-anchor="middle" font-family="Liberation Serif, serif" font-size="18" fill="#262626">90</text>
<text x="931.3" y="413.5" text-anchor="middle" font-family="Liberation Serif, serif" font-size="18" fill="#262626">80</text>
<text x="883.7" y="390.4" text-anchor="middle" font-family="Liberation Serif, serif" font-size="19.5" fill="#262626" textLength="71.6" lengthAdjust="spacingAndGlyphs">SOH [%]</text>
<text x="809.9" y="549.0" text-anchor="end" font-family="Liberation Serif, serif" font-size="18" fill="#262626">4</text>
<text x="809.9" y="500.8" text-anchor="end" font-family="Liberation Serif, serif" font-size="18" fill="#262626">5</text>
<text x="809.9" y="452.7" text-anchor="end" font-family="Liberation Serif, serif" font-size="18" fill="#262626">6</text>
<polyline points="815.4,446.6 847.0,457.6 871.2,470.6 891.8,482.8 909.2,493.8 930.6,506.8 951.0,519.4" fill="none" stroke="#0000FF" stroke-width="1.6"/>
<circle cx="815.4" cy="446.6" r="2.3" fill="#0000FF"/>
<circle cx="847.0" cy="457.6" r="2.3" fill="#0000FF"/>
<circle cx="871.2" cy="470.6" r="2.3" fill="#0000FF"/>
<circle cx="891.8" cy="482.8" r="2.3" fill="#0000FF"/>
<circle cx="909.2" cy="493.8" r="2.3" fill="#0000FF"/>
<circle cx="930.6" cy="506.8" r="2.3" fill="#0000FF"/>
<circle cx="951.0" cy="519.4" r="2.3" fill="#0000FF"/>
<text transform="translate(193.0,484.6) rotate(-90)" text-anchor="middle" font-family="Liberation Serif, serif" font-size="21" fill="#262626" textLength="15.7" lengthAdjust="spacingAndGlyphs"><tspan font-style="italic">y</tspan><tspan font-size="14" dy="2.5">0</tspan></text>
<text transform="translate(402.1,484.6) rotate(-90)" text-anchor="middle" font-family="Liberation Serif, serif" font-size="21" fill="#262626" textLength="60.8" lengthAdjust="spacingAndGlyphs"><tspan font-style="italic">C</tspan><tspan font-style="italic" font-size="14" dy="2.5">p</tspan><tspan dy="-2.5"> [Ah]</tspan></text>
<text transform="translate(584.5,484.4) rotate(-90)" text-anchor="middle" font-family="Liberation Serif, serif" font-size="21" fill="#262626" textLength="30.6" lengthAdjust="spacingAndGlyphs"><tspan font-style="italic">x</tspan><tspan font-size="14" dy="2.7">100</tspan></text>
<text transform="translate(793.1,484.6) rotate(-90)" text-anchor="middle" font-family="Liberation Serif, serif" font-size="21" fill="#262626" textLength="60.8" lengthAdjust="spacingAndGlyphs"><tspan font-style="italic">C</tspan><tspan font-style="italic" font-size="14" dy="2.5">n</tspan><tspan dy="-2.5"> [Ah]</tspan></text>
</svg>
</body></html>
